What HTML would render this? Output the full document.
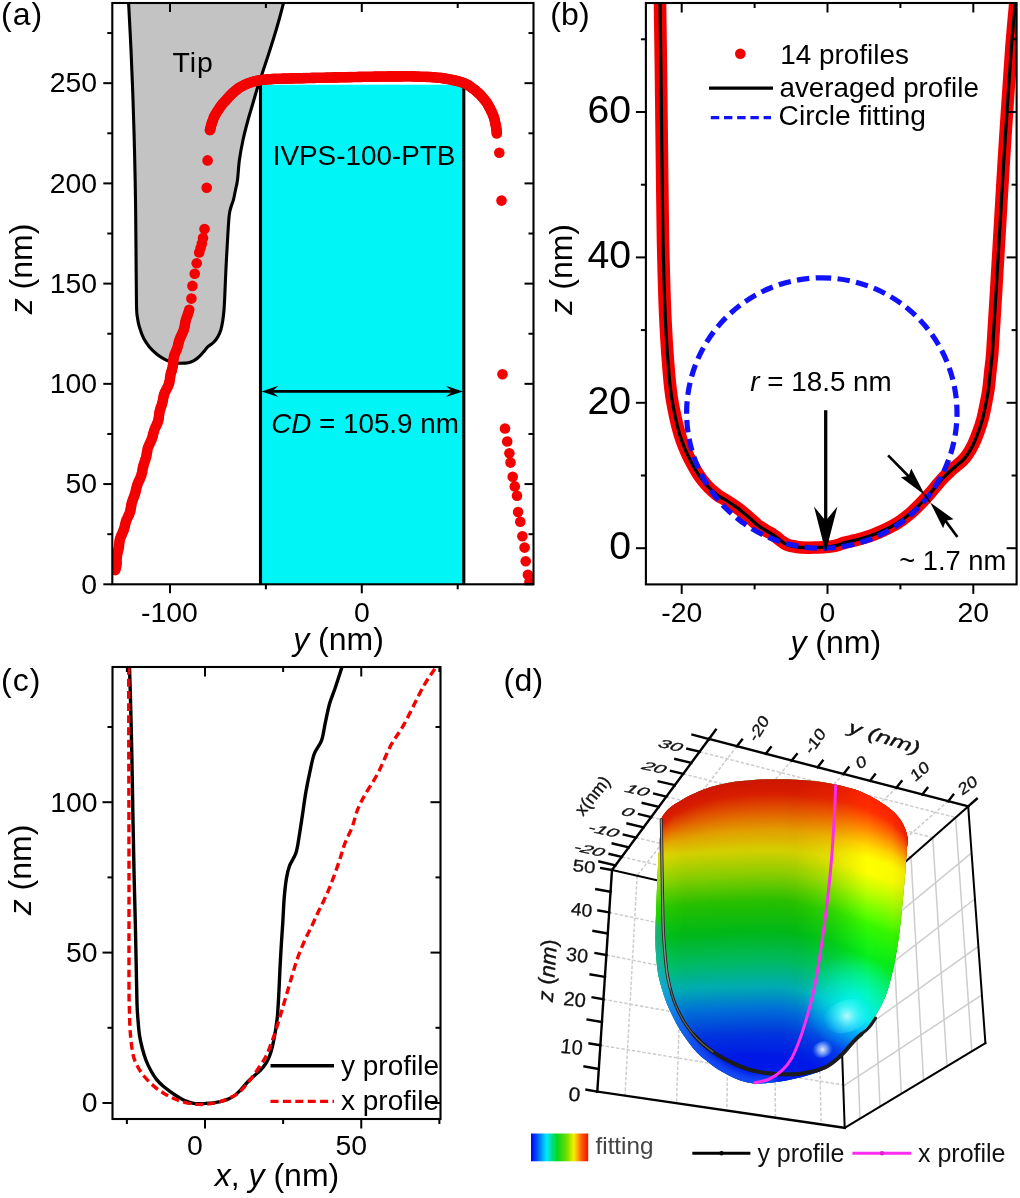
<!DOCTYPE html>
<html lang="en">
<head>
<meta charset="utf-8">
<title>AFM tip characterisation figure</title>
<style>
html,body{margin:0;padding:0;background:#fff;}
body{width:1020px;height:1198px;overflow:hidden;}
svg{display:block;font-family:"Liberation Sans", sans-serif;}
svg text{font-family:"Liberation Sans", sans-serif;}
.it{font-style:italic;}
</style>
</head>
<body>
<svg width="1020" height="1198" viewBox="0 0 1020 1198">
<rect x="0" y="0" width="1020" height="1198" fill="#fff"/>
<g id="panel-a">
<path d="M128.60,3.00 C129.00,10.83 130.27,33.83 131.00,50.00 C131.73,66.17 132.42,83.33 133.00,100.00 C133.58,116.67 134.08,133.33 134.50,150.00 C134.92,166.67 135.25,183.33 135.50,200.00 C135.75,216.67 135.83,232.50 136.00,250.00 C136.17,267.50 136.25,293.67 136.50,305.00 C136.75,316.33 137.02,314.33 137.50,318.00 C137.98,321.67 138.40,323.67 139.40,327.00 C140.40,330.33 141.87,334.72 143.50,338.00 C145.13,341.28 147.12,344.12 149.20,346.70 C151.28,349.28 153.70,351.55 156.00,353.50 C158.30,355.45 160.83,357.12 163.00,358.40 C165.17,359.68 167.05,360.48 169.00,361.20 C170.95,361.92 172.70,362.37 174.70,362.70 C176.70,363.03 178.72,363.20 181.00,363.20 C183.28,363.20 186.32,363.10 188.40,362.70 C190.48,362.30 191.87,361.67 193.50,360.80 C195.13,359.93 196.62,358.88 198.20,357.50 C199.78,356.12 201.37,354.30 203.00,352.50 C204.63,350.70 206.25,348.37 208.00,346.70 C209.75,345.03 211.87,344.13 213.50,342.50 C215.13,340.87 216.58,338.98 217.80,336.90 C219.02,334.82 219.98,332.65 220.80,330.00 C221.62,327.35 222.17,324.33 222.70,321.00 C223.23,317.67 223.67,313.90 224.00,310.00 C224.33,306.10 224.37,304.60 224.70,297.60 C225.03,290.60 225.52,277.80 226.00,268.00 C226.48,258.20 227.07,247.58 227.60,238.80 C228.13,230.02 228.63,220.60 229.20,215.30 C229.77,210.00 230.28,209.62 231.00,207.00 C231.72,204.38 232.75,202.43 233.50,199.60 C234.25,196.77 234.83,193.27 235.50,190.00 C236.17,186.73 236.85,185.00 237.50,180.00 C238.15,175.00 238.48,166.67 239.40,160.00 C240.32,153.33 241.57,146.67 243.00,140.00 C244.43,133.33 246.33,126.17 248.00,120.00 C249.67,113.83 251.33,108.67 253.00,103.00 C254.67,97.33 255.83,92.83 258.00,86.00 C260.17,79.17 263.38,70.00 266.00,62.00 C268.62,54.00 271.53,45.00 273.70,38.00 C275.87,31.00 277.37,25.83 279.00,20.00 C280.63,14.17 282.75,5.83 283.50,3.00Z" fill="#c3c3c3" stroke="none"/>
<path d="M128.60,3.00 C129.00,10.83 130.27,33.83 131.00,50.00 C131.73,66.17 132.42,83.33 133.00,100.00 C133.58,116.67 134.08,133.33 134.50,150.00 C134.92,166.67 135.25,183.33 135.50,200.00 C135.75,216.67 135.83,232.50 136.00,250.00 C136.17,267.50 136.25,293.67 136.50,305.00 C136.75,316.33 137.02,314.33 137.50,318.00 C137.98,321.67 138.40,323.67 139.40,327.00 C140.40,330.33 141.87,334.72 143.50,338.00 C145.13,341.28 147.12,344.12 149.20,346.70 C151.28,349.28 153.70,351.55 156.00,353.50 C158.30,355.45 160.83,357.12 163.00,358.40 C165.17,359.68 167.05,360.48 169.00,361.20 C170.95,361.92 172.70,362.37 174.70,362.70 C176.70,363.03 178.72,363.20 181.00,363.20 C183.28,363.20 186.32,363.10 188.40,362.70 C190.48,362.30 191.87,361.67 193.50,360.80 C195.13,359.93 196.62,358.88 198.20,357.50 C199.78,356.12 201.37,354.30 203.00,352.50 C204.63,350.70 206.25,348.37 208.00,346.70 C209.75,345.03 211.87,344.13 213.50,342.50 C215.13,340.87 216.58,338.98 217.80,336.90 C219.02,334.82 219.98,332.65 220.80,330.00 C221.62,327.35 222.17,324.33 222.70,321.00 C223.23,317.67 223.67,313.90 224.00,310.00 C224.33,306.10 224.37,304.60 224.70,297.60 C225.03,290.60 225.52,277.80 226.00,268.00 C226.48,258.20 227.07,247.58 227.60,238.80 C228.13,230.02 228.63,220.60 229.20,215.30 C229.77,210.00 230.28,209.62 231.00,207.00 C231.72,204.38 232.75,202.43 233.50,199.60 C234.25,196.77 234.83,193.27 235.50,190.00 C236.17,186.73 236.85,185.00 237.50,180.00 C238.15,175.00 238.48,166.67 239.40,160.00 C240.32,153.33 241.57,146.67 243.00,140.00 C244.43,133.33 246.33,126.17 248.00,120.00 C249.67,113.83 251.33,108.67 253.00,103.00 C254.67,97.33 255.83,92.83 258.00,86.00 C260.17,79.17 263.38,70.00 266.00,62.00 C268.62,54.00 271.53,45.00 273.70,38.00 C275.87,31.00 277.37,25.83 279.00,20.00 C280.63,14.17 282.75,5.83 283.50,3.00" fill="none" stroke="#000" stroke-width="3.1" stroke-linejoin="round"/>
<rect x="260.5" y="84.7" width="203.3" height="499.6" fill="#00f6f6"/>
<line x1="260.50" y1="84.70" x2="260.50" y2="584.30" stroke="#000" stroke-width="3.1" />
<line x1="463.80" y1="84.70" x2="463.80" y2="584.30" stroke="#000" stroke-width="3.1" />
<clipPath id="clipA"><rect x="112.3" y="3.0" width="421.2" height="581.3"/></clipPath>
<g fill="#f40000" clip-path="url(#clipA)">
<circle cx="115.3" cy="570.1" r="5.3"/>
<circle cx="116.0" cy="567.5" r="5.3"/>
<circle cx="116.5" cy="564.9" r="5.3"/>
<circle cx="116.6" cy="562.4" r="5.3"/>
<circle cx="116.6" cy="559.8" r="5.3"/>
<circle cx="116.8" cy="557.2" r="5.3"/>
<circle cx="117.2" cy="554.6" r="5.3"/>
<circle cx="117.7" cy="552.0" r="5.3"/>
<circle cx="118.4" cy="549.5" r="5.3"/>
<circle cx="118.9" cy="547.0" r="5.3"/>
<circle cx="119.2" cy="544.5" r="5.3"/>
<circle cx="119.4" cy="542.0" r="5.3"/>
<circle cx="119.9" cy="539.5" r="5.3"/>
<circle cx="120.7" cy="536.9" r="5.3"/>
<circle cx="121.8" cy="534.4" r="5.3"/>
<circle cx="122.9" cy="531.9" r="5.3"/>
<circle cx="123.9" cy="529.4" r="5.3"/>
<circle cx="124.6" cy="526.9" r="5.3"/>
<circle cx="125.2" cy="524.4" r="5.3"/>
<circle cx="125.8" cy="521.9" r="5.3"/>
<circle cx="126.7" cy="519.4" r="5.3"/>
<circle cx="127.9" cy="516.9" r="5.3"/>
<circle cx="129.1" cy="514.5" r="5.3"/>
<circle cx="130.0" cy="512.0" r="5.3"/>
<circle cx="130.6" cy="509.6" r="5.3"/>
<circle cx="131.0" cy="507.1" r="5.3"/>
<circle cx="131.4" cy="504.6" r="5.3"/>
<circle cx="132.0" cy="502.2" r="5.3"/>
<circle cx="132.8" cy="499.7" r="5.3"/>
<circle cx="133.8" cy="497.2" r="5.3"/>
<circle cx="134.7" cy="494.7" r="5.3"/>
<circle cx="135.5" cy="492.2" r="5.3"/>
<circle cx="136.0" cy="489.7" r="5.3"/>
<circle cx="136.6" cy="487.2" r="5.3"/>
<circle cx="137.3" cy="484.7" r="5.3"/>
<circle cx="138.3" cy="482.2" r="5.3"/>
<circle cx="139.5" cy="479.7" r="5.3"/>
<circle cx="140.6" cy="477.2" r="5.3"/>
<circle cx="141.5" cy="474.7" r="5.3"/>
<circle cx="142.1" cy="472.2" r="5.3"/>
<circle cx="142.5" cy="469.7" r="5.3"/>
<circle cx="143.0" cy="467.2" r="5.3"/>
<circle cx="143.6" cy="464.7" r="5.3"/>
<circle cx="144.5" cy="462.2" r="5.3"/>
<circle cx="145.3" cy="459.7" r="5.3"/>
<circle cx="146.1" cy="457.2" r="5.3"/>
<circle cx="146.6" cy="454.7" r="5.3"/>
<circle cx="147.0" cy="452.2" r="5.3"/>
<circle cx="147.4" cy="449.8" r="5.3"/>
<circle cx="148.1" cy="447.3" r="5.3"/>
<circle cx="149.2" cy="444.8" r="5.3"/>
<circle cx="150.4" cy="442.3" r="5.3"/>
<circle cx="151.5" cy="439.8" r="5.3"/>
<circle cx="152.4" cy="437.3" r="5.3"/>
<circle cx="153.0" cy="434.8" r="5.3"/>
<circle cx="153.7" cy="432.3" r="5.3"/>
<circle cx="154.4" cy="429.8" r="5.3"/>
<circle cx="155.4" cy="427.3" r="5.3"/>
<circle cx="156.6" cy="424.9" r="5.3"/>
<circle cx="157.6" cy="422.4" r="5.3"/>
<circle cx="158.4" cy="419.9" r="5.3"/>
<circle cx="158.8" cy="417.4" r="5.3"/>
<circle cx="159.1" cy="414.9" r="5.3"/>
<circle cx="159.4" cy="412.4" r="5.3"/>
<circle cx="160.0" cy="409.9" r="5.3"/>
<circle cx="160.8" cy="407.4" r="5.3"/>
<circle cx="161.7" cy="404.9" r="5.3"/>
<circle cx="162.4" cy="402.4" r="5.3"/>
<circle cx="163.0" cy="399.8" r="5.3"/>
<circle cx="163.4" cy="397.3" r="5.3"/>
<circle cx="164.0" cy="394.8" r="5.3"/>
<circle cx="164.9" cy="392.3" r="5.3"/>
<circle cx="166.1" cy="389.9" r="5.3"/>
<circle cx="167.4" cy="387.4" r="5.3"/>
<circle cx="168.5" cy="384.9" r="5.3"/>
<circle cx="169.3" cy="382.4" r="5.3"/>
<circle cx="169.8" cy="379.9" r="5.3"/>
<circle cx="170.1" cy="377.3" r="5.3"/>
<circle cx="170.5" cy="374.8" r="5.3"/>
<circle cx="171.2" cy="372.3" r="5.3"/>
<circle cx="172.0" cy="369.7" r="5.3"/>
<circle cx="172.6" cy="367.2" r="5.3"/>
<circle cx="173.0" cy="364.7" r="5.3"/>
<circle cx="173.2" cy="362.1" r="5.3"/>
<circle cx="173.4" cy="359.6" r="5.3"/>
<circle cx="173.9" cy="357.1" r="5.3"/>
<circle cx="174.6" cy="354.6" r="5.3"/>
<circle cx="175.7" cy="352.0" r="5.3"/>
<circle cx="176.8" cy="349.5" r="5.3"/>
<circle cx="177.6" cy="347.0" r="5.3"/>
<circle cx="178.2" cy="344.5" r="5.3"/>
<circle cx="178.8" cy="342.0" r="5.3"/>
<circle cx="179.6" cy="339.5" r="5.3"/>
<circle cx="180.6" cy="337.0" r="5.3"/>
<circle cx="181.8" cy="334.6" r="5.3"/>
<circle cx="182.9" cy="332.1" r="5.3"/>
<circle cx="183.9" cy="329.6" r="5.3"/>
<circle cx="184.5" cy="327.2" r="5.3"/>
<circle cx="184.9" cy="324.7" r="5.3"/>
<circle cx="185.3" cy="322.2" r="5.3"/>
<circle cx="185.9" cy="319.8" r="5.3"/>
<circle cx="186.8" cy="317.3" r="5.3"/>
<circle cx="187.7" cy="314.8" r="5.3"/>
<circle cx="188.5" cy="312.3" r="5.3"/>
<circle cx="189.2" cy="309.8" r="5.3"/>
<circle cx="191.4" cy="298.6" r="5.3"/>
<circle cx="192.4" cy="285.9" r="5.3"/>
<circle cx="194.7" cy="273.7" r="5.3"/>
<circle cx="196.7" cy="263.3" r="5.3"/>
<circle cx="199.2" cy="252.5" r="5.3"/>
<circle cx="200.6" cy="248.0" r="5.3"/>
<circle cx="201.8" cy="243.7" r="5.3"/>
<circle cx="203.0" cy="238.0" r="5.3"/>
<circle cx="204.5" cy="229.0" r="5.3"/>
<circle cx="206.7" cy="187.8" r="5.3"/>
<circle cx="207.6" cy="160.4" r="5.3"/>
<circle cx="210.0" cy="130.0" r="5.3"/>
<circle cx="210.0" cy="130.0" r="5.3"/>
<circle cx="210.4" cy="128.4" r="5.3"/>
<circle cx="210.8" cy="126.9" r="5.3"/>
<circle cx="211.2" cy="125.3" r="5.3"/>
<circle cx="211.6" cy="123.8" r="5.3"/>
<circle cx="212.1" cy="122.3" r="5.3"/>
<circle cx="212.7" cy="120.8" r="5.3"/>
<circle cx="213.2" cy="119.3" r="5.3"/>
<circle cx="213.7" cy="117.8" r="5.3"/>
<circle cx="214.4" cy="116.3" r="5.3"/>
<circle cx="215.2" cy="114.9" r="5.3"/>
<circle cx="216.0" cy="113.5" r="5.3"/>
<circle cx="216.8" cy="112.2" r="5.3"/>
<circle cx="217.7" cy="110.8" r="5.3"/>
<circle cx="218.6" cy="109.5" r="5.3"/>
<circle cx="219.5" cy="108.1" r="5.3"/>
<circle cx="220.4" cy="106.8" r="5.3"/>
<circle cx="221.3" cy="105.5" r="5.3"/>
<circle cx="222.2" cy="104.2" r="5.3"/>
<circle cx="223.3" cy="103.0" r="5.3"/>
<circle cx="224.4" cy="101.9" r="5.3"/>
<circle cx="225.5" cy="100.7" r="5.3"/>
<circle cx="226.6" cy="99.5" r="5.3"/>
<circle cx="227.6" cy="98.3" r="5.3"/>
<circle cx="228.7" cy="97.1" r="5.3"/>
<circle cx="229.8" cy="95.9" r="5.3"/>
<circle cx="230.9" cy="94.7" r="5.3"/>
<circle cx="231.9" cy="93.6" r="5.3"/>
<circle cx="233.2" cy="92.5" r="5.3"/>
<circle cx="234.4" cy="91.5" r="5.3"/>
<circle cx="235.6" cy="90.5" r="5.3"/>
<circle cx="236.9" cy="89.4" r="5.3"/>
<circle cx="238.1" cy="88.4" r="5.3"/>
<circle cx="239.5" cy="87.6" r="5.3"/>
<circle cx="240.9" cy="86.8" r="5.3"/>
<circle cx="242.3" cy="86.1" r="5.3"/>
<circle cx="243.7" cy="85.3" r="5.3"/>
<circle cx="245.1" cy="84.5" r="5.3"/>
<circle cx="246.6" cy="83.9" r="5.3"/>
<circle cx="248.1" cy="83.3" r="5.3"/>
<circle cx="249.6" cy="82.8" r="5.3"/>
<circle cx="251.1" cy="82.2" r="5.3"/>
<circle cx="252.6" cy="81.7" r="5.3"/>
<circle cx="254.1" cy="81.3" r="5.3"/>
<circle cx="255.7" cy="81.0" r="5.3"/>
<circle cx="257.3" cy="80.7" r="5.3"/>
<circle cx="258.8" cy="80.4" r="5.3"/>
<circle cx="260.4" cy="80.1" r="5.3"/>
<circle cx="262.0" cy="79.8" r="5.3"/>
<circle cx="263.6" cy="79.7" r="5.3"/>
<circle cx="265.2" cy="79.6" r="5.3"/>
<circle cx="266.8" cy="79.4" r="5.3"/>
<circle cx="268.4" cy="79.3" r="5.3"/>
<circle cx="270.0" cy="79.2" r="5.3"/>
<circle cx="271.6" cy="79.1" r="5.3"/>
<circle cx="273.2" cy="78.9" r="5.3"/>
<circle cx="274.8" cy="78.8" r="5.3"/>
<circle cx="276.4" cy="78.8" r="5.3"/>
<circle cx="278.0" cy="78.7" r="5.3"/>
<circle cx="279.6" cy="78.7" r="5.3"/>
<circle cx="281.2" cy="78.7" r="5.3"/>
<circle cx="282.8" cy="78.6" r="5.3"/>
<circle cx="284.4" cy="78.6" r="5.3"/>
<circle cx="286.0" cy="78.5" r="5.3"/>
<circle cx="287.6" cy="78.5" r="5.3"/>
<circle cx="289.2" cy="78.5" r="5.3"/>
<circle cx="290.8" cy="78.4" r="5.3"/>
<circle cx="292.4" cy="78.4" r="5.3"/>
<circle cx="294.0" cy="78.3" r="5.3"/>
<circle cx="295.6" cy="78.3" r="5.3"/>
<circle cx="297.2" cy="78.3" r="5.3"/>
<circle cx="298.8" cy="78.2" r="5.3"/>
<circle cx="300.4" cy="78.2" r="5.3"/>
<circle cx="302.0" cy="78.2" r="5.3"/>
<circle cx="303.6" cy="78.1" r="5.3"/>
<circle cx="305.2" cy="78.1" r="5.3"/>
<circle cx="306.8" cy="78.0" r="5.3"/>
<circle cx="308.4" cy="78.0" r="5.3"/>
<circle cx="310.0" cy="78.0" r="5.3"/>
<circle cx="311.6" cy="77.9" r="5.3"/>
<circle cx="313.2" cy="77.9" r="5.3"/>
<circle cx="314.8" cy="77.9" r="5.3"/>
<circle cx="316.4" cy="77.8" r="5.3"/>
<circle cx="318.0" cy="77.8" r="5.3"/>
<circle cx="319.6" cy="77.8" r="5.3"/>
<circle cx="321.2" cy="77.7" r="5.3"/>
<circle cx="322.8" cy="77.7" r="5.3"/>
<circle cx="324.4" cy="77.7" r="5.3"/>
<circle cx="326.0" cy="77.6" r="5.3"/>
<circle cx="327.6" cy="77.6" r="5.3"/>
<circle cx="329.2" cy="77.5" r="5.3"/>
<circle cx="330.8" cy="77.5" r="5.3"/>
<circle cx="332.4" cy="77.5" r="5.3"/>
<circle cx="334.0" cy="77.4" r="5.3"/>
<circle cx="335.6" cy="77.4" r="5.3"/>
<circle cx="337.2" cy="77.4" r="5.3"/>
<circle cx="338.8" cy="77.3" r="5.3"/>
<circle cx="340.4" cy="77.3" r="5.3"/>
<circle cx="342.1" cy="77.3" r="5.3"/>
<circle cx="343.7" cy="77.2" r="5.3"/>
<circle cx="345.3" cy="77.2" r="5.3"/>
<circle cx="346.9" cy="77.2" r="5.3"/>
<circle cx="348.5" cy="77.1" r="5.3"/>
<circle cx="350.1" cy="77.1" r="5.3"/>
<circle cx="351.7" cy="77.1" r="5.3"/>
<circle cx="353.3" cy="77.0" r="5.3"/>
<circle cx="354.9" cy="77.0" r="5.3"/>
<circle cx="356.5" cy="77.0" r="5.3"/>
<circle cx="358.1" cy="76.9" r="5.3"/>
<circle cx="359.7" cy="76.9" r="5.3"/>
<circle cx="361.3" cy="76.9" r="5.3"/>
<circle cx="362.9" cy="76.8" r="5.3"/>
<circle cx="364.5" cy="76.8" r="5.3"/>
<circle cx="366.1" cy="76.8" r="5.3"/>
<circle cx="367.7" cy="76.7" r="5.3"/>
<circle cx="369.3" cy="76.7" r="5.3"/>
<circle cx="370.9" cy="76.7" r="5.3"/>
<circle cx="372.5" cy="76.7" r="5.3"/>
<circle cx="374.1" cy="76.6" r="5.3"/>
<circle cx="375.7" cy="76.6" r="5.3"/>
<circle cx="377.3" cy="76.6" r="5.3"/>
<circle cx="378.9" cy="76.5" r="5.3"/>
<circle cx="380.5" cy="76.5" r="5.3"/>
<circle cx="382.1" cy="76.5" r="5.3"/>
<circle cx="383.7" cy="76.5" r="5.3"/>
<circle cx="385.3" cy="76.5" r="5.3"/>
<circle cx="386.9" cy="76.5" r="5.3"/>
<circle cx="388.5" cy="76.4" r="5.3"/>
<circle cx="390.1" cy="76.4" r="5.3"/>
<circle cx="391.7" cy="76.4" r="5.3"/>
<circle cx="393.3" cy="76.4" r="5.3"/>
<circle cx="394.9" cy="76.4" r="5.3"/>
<circle cx="396.5" cy="76.4" r="5.3"/>
<circle cx="398.1" cy="76.4" r="5.3"/>
<circle cx="399.7" cy="76.4" r="5.3"/>
<circle cx="401.3" cy="76.4" r="5.3"/>
<circle cx="402.9" cy="76.3" r="5.3"/>
<circle cx="404.5" cy="76.3" r="5.3"/>
<circle cx="406.1" cy="76.3" r="5.3"/>
<circle cx="407.7" cy="76.3" r="5.3"/>
<circle cx="409.3" cy="76.3" r="5.3"/>
<circle cx="410.9" cy="76.3" r="5.3"/>
<circle cx="412.5" cy="76.4" r="5.3"/>
<circle cx="414.1" cy="76.4" r="5.3"/>
<circle cx="415.7" cy="76.5" r="5.3"/>
<circle cx="417.3" cy="76.6" r="5.3"/>
<circle cx="418.9" cy="76.6" r="5.3"/>
<circle cx="420.5" cy="76.7" r="5.3"/>
<circle cx="422.1" cy="76.7" r="5.3"/>
<circle cx="423.7" cy="76.8" r="5.3"/>
<circle cx="425.3" cy="76.8" r="5.3"/>
<circle cx="426.9" cy="76.9" r="5.3"/>
<circle cx="428.6" cy="76.9" r="5.3"/>
<circle cx="430.2" cy="77.0" r="5.3"/>
<circle cx="431.7" cy="77.1" r="5.3"/>
<circle cx="433.3" cy="77.3" r="5.3"/>
<circle cx="434.9" cy="77.4" r="5.3"/>
<circle cx="436.5" cy="77.5" r="5.3"/>
<circle cx="438.1" cy="77.7" r="5.3"/>
<circle cx="439.7" cy="77.8" r="5.3"/>
<circle cx="441.3" cy="77.9" r="5.3"/>
<circle cx="442.9" cy="78.2" r="5.3"/>
<circle cx="444.5" cy="78.4" r="5.3"/>
<circle cx="446.1" cy="78.7" r="5.3"/>
<circle cx="447.6" cy="79.0" r="5.3"/>
<circle cx="449.2" cy="79.3" r="5.3"/>
<circle cx="450.8" cy="79.6" r="5.3"/>
<circle cx="452.4" cy="79.9" r="5.3"/>
<circle cx="453.9" cy="80.2" r="5.3"/>
<circle cx="455.5" cy="80.6" r="5.3"/>
<circle cx="457.1" cy="80.9" r="5.3"/>
<circle cx="458.6" cy="81.3" r="5.3"/>
<circle cx="460.2" cy="81.7" r="5.3"/>
<circle cx="461.7" cy="82.2" r="5.3"/>
<circle cx="463.2" cy="82.8" r="5.3"/>
<circle cx="464.7" cy="83.4" r="5.3"/>
<circle cx="466.2" cy="84.0" r="5.3"/>
<circle cx="467.6" cy="84.7" r="5.3"/>
<circle cx="468.9" cy="85.6" r="5.3"/>
<circle cx="470.2" cy="86.5" r="5.3"/>
<circle cx="471.5" cy="87.4" r="5.3"/>
<circle cx="472.8" cy="88.4" r="5.3"/>
<circle cx="474.1" cy="89.3" r="5.3"/>
<circle cx="475.4" cy="90.3" r="5.3"/>
<circle cx="476.6" cy="91.4" r="5.3"/>
<circle cx="477.8" cy="92.5" r="5.3"/>
<circle cx="479.0" cy="93.5" r="5.3"/>
<circle cx="480.1" cy="94.6" r="5.3"/>
<circle cx="481.2" cy="95.8" r="5.3"/>
<circle cx="482.2" cy="97.0" r="5.3"/>
<circle cx="483.3" cy="98.2" r="5.3"/>
<circle cx="484.3" cy="99.5" r="5.3"/>
<circle cx="485.3" cy="100.7" r="5.3"/>
<circle cx="486.3" cy="102.0" r="5.3"/>
<circle cx="487.2" cy="103.3" r="5.3"/>
<circle cx="488.0" cy="104.7" r="5.3"/>
<circle cx="488.7" cy="106.1" r="5.3"/>
<circle cx="489.5" cy="107.5" r="5.3"/>
<circle cx="490.3" cy="108.9" r="5.3"/>
<circle cx="491.0" cy="110.4" r="5.3"/>
<circle cx="491.7" cy="111.8" r="5.3"/>
<circle cx="492.4" cy="113.3" r="5.3"/>
<circle cx="492.9" cy="114.7" r="5.3"/>
<circle cx="493.5" cy="116.3" r="5.3"/>
<circle cx="494.0" cy="117.8" r="5.3"/>
<circle cx="494.5" cy="119.3" r="5.3"/>
<circle cx="494.8" cy="120.9" r="5.3"/>
<circle cx="495.2" cy="122.4" r="5.3"/>
<circle cx="495.5" cy="124.0" r="5.3"/>
<circle cx="495.8" cy="125.6" r="5.3"/>
<circle cx="496.1" cy="127.1" r="5.3"/>
<circle cx="496.4" cy="128.7" r="5.3"/>
<circle cx="496.6" cy="130.3" r="5.3"/>
<circle cx="496.7" cy="131.9" r="5.3"/>
<circle cx="496.8" cy="133.5" r="5.3"/>
<circle cx="499.3" cy="152.7" r="5.3"/>
<circle cx="501.5" cy="200.6" r="5.3"/>
<circle cx="502.5" cy="374.3" r="5.3"/>
<circle cx="505.0" cy="428.5" r="5.3"/>
<circle cx="507.2" cy="441.5" r="5.3"/>
<circle cx="509.4" cy="453.2" r="5.3"/>
<circle cx="510.5" cy="462.6" r="5.3"/>
<circle cx="512.7" cy="476.7" r="5.3"/>
<circle cx="514.8" cy="486.4" r="5.3"/>
<circle cx="517.0" cy="495.7" r="5.3"/>
<circle cx="518.1" cy="512.0" r="5.3"/>
<circle cx="520.3" cy="521.8" r="5.3"/>
<circle cx="522.4" cy="536.3" r="5.3"/>
<circle cx="524.6" cy="547.6" r="5.3"/>
<circle cx="525.7" cy="561.3" r="5.3"/>
<circle cx="527.9" cy="574.7" r="5.3"/>
<circle cx="529.4" cy="581.9" r="5.3"/>
</g>
<rect x="112.3" y="3.0" width="421.2" height="581.3" fill="none" stroke="#000" stroke-width="2.1"/>
<line x1="103.30" y1="584.30" x2="112.30" y2="584.30" stroke="#000" stroke-width="2" />
<line x1="524.50" y1="584.30" x2="533.50" y2="584.30" stroke="#000" stroke-width="2" />
<text x="97.00" y="593.60" font-size="28.4" text-anchor="end" fill="#000" >0</text>
<line x1="107.30" y1="534.19" x2="112.30" y2="534.19" stroke="#000" stroke-width="2" />
<line x1="528.50" y1="534.19" x2="533.50" y2="534.19" stroke="#000" stroke-width="2" />
<line x1="103.30" y1="484.07" x2="112.30" y2="484.07" stroke="#000" stroke-width="2" />
<line x1="524.50" y1="484.07" x2="533.50" y2="484.07" stroke="#000" stroke-width="2" />
<text x="97.00" y="493.37" font-size="28.4" text-anchor="end" fill="#000" >50</text>
<line x1="107.30" y1="433.96" x2="112.30" y2="433.96" stroke="#000" stroke-width="2" />
<line x1="528.50" y1="433.96" x2="533.50" y2="433.96" stroke="#000" stroke-width="2" />
<line x1="103.30" y1="383.85" x2="112.30" y2="383.85" stroke="#000" stroke-width="2" />
<line x1="524.50" y1="383.85" x2="533.50" y2="383.85" stroke="#000" stroke-width="2" />
<text x="97.00" y="393.15" font-size="28.4" text-anchor="end" fill="#000" >100</text>
<line x1="107.30" y1="333.74" x2="112.30" y2="333.74" stroke="#000" stroke-width="2" />
<line x1="528.50" y1="333.74" x2="533.50" y2="333.74" stroke="#000" stroke-width="2" />
<line x1="103.30" y1="283.62" x2="112.30" y2="283.62" stroke="#000" stroke-width="2" />
<line x1="524.50" y1="283.62" x2="533.50" y2="283.62" stroke="#000" stroke-width="2" />
<text x="97.00" y="292.92" font-size="28.4" text-anchor="end" fill="#000" >150</text>
<line x1="107.30" y1="233.51" x2="112.30" y2="233.51" stroke="#000" stroke-width="2" />
<line x1="528.50" y1="233.51" x2="533.50" y2="233.51" stroke="#000" stroke-width="2" />
<line x1="103.30" y1="183.40" x2="112.30" y2="183.40" stroke="#000" stroke-width="2" />
<line x1="524.50" y1="183.40" x2="533.50" y2="183.40" stroke="#000" stroke-width="2" />
<text x="97.00" y="192.70" font-size="28.4" text-anchor="end" fill="#000" >200</text>
<line x1="107.30" y1="133.29" x2="112.30" y2="133.29" stroke="#000" stroke-width="2" />
<line x1="528.50" y1="133.29" x2="533.50" y2="133.29" stroke="#000" stroke-width="2" />
<line x1="103.30" y1="83.17" x2="112.30" y2="83.17" stroke="#000" stroke-width="2" />
<line x1="524.50" y1="83.17" x2="533.50" y2="83.17" stroke="#000" stroke-width="2" />
<text x="97.00" y="92.47" font-size="28.4" text-anchor="end" fill="#000" >250</text>
<line x1="107.30" y1="33.06" x2="112.30" y2="33.06" stroke="#000" stroke-width="2" />
<line x1="528.50" y1="33.06" x2="533.50" y2="33.06" stroke="#000" stroke-width="2" />
<line x1="170.00" y1="584.30" x2="170.00" y2="593.30" stroke="#000" stroke-width="2" />
<line x1="170.00" y1="3.00" x2="170.00" y2="12.00" stroke="#000" stroke-width="2" />
<text x="169.50" y="622.00" font-size="28.4" text-anchor="middle" fill="#000" >-100</text>
<line x1="265.90" y1="584.30" x2="265.90" y2="589.30" stroke="#000" stroke-width="2" />
<line x1="265.90" y1="3.00" x2="265.90" y2="8.00" stroke="#000" stroke-width="2" />
<line x1="361.80" y1="584.30" x2="361.80" y2="593.30" stroke="#000" stroke-width="2" />
<line x1="361.80" y1="3.00" x2="361.80" y2="12.00" stroke="#000" stroke-width="2" />
<text x="361.80" y="622.00" font-size="28.4" text-anchor="middle" fill="#000" >0</text>
<line x1="457.70" y1="584.30" x2="457.70" y2="589.30" stroke="#000" stroke-width="2" />
<line x1="457.70" y1="3.00" x2="457.70" y2="8.00" stroke="#000" stroke-width="2" />
<text x="172.60" y="72.00" font-size="28.4" text-anchor="start" fill="#000" letter-spacing="0.9">Tip</text>
<text x="364.00" y="165.30" font-size="27.85" text-anchor="middle" fill="#000" >IVPS-100-PTB</text>
<text x="365.00" y="432.50" font-size="27.8" text-anchor="middle" fill="#000" ><tspan class="it">CD</tspan> = 105.9 nm</text>
<line x1="268.00" y1="391.40" x2="456.00" y2="391.40" stroke="#000" stroke-width="2.6" />
<polygon points="261.50,391.40 278.50,397.00 272.04,391.40 278.50,385.80" fill="#000"/>
<polygon points="462.80,391.40 445.80,385.80 452.26,391.40 445.80,397.00" fill="#000"/>
<text x="1.00" y="25.00" font-size="32" text-anchor="start" fill="#000" letter-spacing="1">(a)</text>
<text transform="translate(32.3,269.0) rotate(-90)" font-size="32" text-anchor="middle"><tspan class="it">z</tspan> (nm)</text>
<text x="338.50" y="650.00" font-size="32" text-anchor="middle" fill="#000" ><tspan class="it">y</tspan> (nm)</text>
</g>
<g id="panel-b">
<clipPath id="clipB"><rect x="645.9" y="3.0" width="370.7" height="581.4"/></clipPath>
<g clip-path="url(#clipB)">
<path d="M660.00,3.00 C660.13,12.50 660.55,40.50 660.80,60.00 C661.05,79.50 661.27,100.00 661.50,120.00 C661.73,140.00 661.95,160.00 662.20,180.00 C662.45,200.00 662.70,223.33 663.00,240.00 C663.30,256.67 663.63,267.58 664.00,280.00 C664.37,292.42 664.65,302.50 665.20,314.50 C665.75,326.50 666.42,339.58 667.30,352.00 C668.18,364.42 669.47,379.67 670.50,389.00 C671.53,398.33 672.33,401.78 673.50,408.00 C674.67,414.22 676.17,420.97 677.50,426.30 C678.83,431.63 680.00,435.65 681.50,440.00 C683.00,444.35 684.75,448.48 686.50,452.40 C688.25,456.32 690.00,459.78 692.00,463.50 C694.00,467.22 696.17,471.20 698.50,474.70 C700.83,478.20 703.75,481.87 706.00,484.50 C708.25,487.13 709.93,488.63 712.00,490.50 C714.07,492.37 715.73,493.87 718.40,495.70 C721.07,497.53 724.73,499.38 728.00,501.50 C731.27,503.62 734.67,505.90 738.00,508.40 C741.33,510.90 744.73,513.72 748.00,516.50 C751.27,519.28 754.68,522.80 757.60,525.10 C760.52,527.40 762.88,528.67 765.50,530.30 C768.12,531.93 770.88,533.28 773.30,534.90 C775.72,536.52 777.72,538.37 780.00,540.00 C782.28,541.63 784.18,543.55 787.00,544.70 C789.82,545.85 793.45,546.40 796.90,546.90 C800.35,547.40 804.35,547.60 807.70,547.70 C811.05,547.80 813.90,547.62 817.00,547.50 C820.10,547.38 823.13,547.32 826.30,547.00 C829.47,546.68 832.88,546.33 836.00,545.60 C839.12,544.87 841.92,543.47 845.00,542.60 C848.08,541.73 851.42,541.17 854.50,540.40 C857.58,539.63 860.42,538.93 863.50,538.00 C866.58,537.07 869.88,535.97 873.00,534.80 C876.12,533.63 879.07,532.42 882.20,531.00 C885.33,529.58 888.70,528.00 891.80,526.30 C894.90,524.60 897.68,522.97 900.80,520.80 C903.92,518.63 907.40,515.97 910.50,513.30 C913.60,510.63 916.35,507.88 919.40,504.80 C922.45,501.72 925.87,498.10 928.80,494.80 C931.73,491.50 934.53,487.88 937.00,485.00 C939.47,482.12 941.57,479.67 943.60,477.50 C945.63,475.33 947.22,473.83 949.20,472.00 C951.18,470.17 953.37,468.33 955.50,466.50 C957.63,464.67 960.00,463.00 962.00,461.00 C964.00,459.00 965.67,457.17 967.50,454.50 C969.33,451.83 971.25,448.58 973.00,445.00 C974.75,441.42 976.40,437.37 978.00,433.00 C979.60,428.63 981.30,423.63 982.60,418.80 C983.90,413.97 984.82,408.97 985.80,404.00 C986.78,399.03 987.72,394.67 988.50,389.00 C989.28,383.33 989.85,376.20 990.50,370.00 C991.15,363.80 991.55,363.47 992.40,351.80 C993.25,340.13 994.08,325.30 995.60,300.00 C997.12,274.70 1000.02,225.00 1001.50,200.00 C1002.98,175.00 1003.45,166.67 1004.50,150.00 C1005.55,133.33 1006.88,113.67 1007.80,100.00 C1008.72,86.33 1009.30,78.00 1010.00,68.00 C1010.70,58.00 1011.12,50.83 1012.00,40.00 C1012.88,29.17 1014.75,9.17 1015.30,3.00" fill="none" stroke="#f40000" stroke-width="12.6" stroke-linejoin="round" stroke-linecap="butt"/>
<path d="M660.00,3.00 C660.13,12.50 660.55,40.50 660.80,60.00 C661.05,79.50 661.27,100.00 661.50,120.00 C661.73,140.00 661.95,160.00 662.20,180.00 C662.45,200.00 662.70,223.33 663.00,240.00 C663.30,256.67 663.63,267.58 664.00,280.00 C664.37,292.42 664.65,302.50 665.20,314.50 C665.75,326.50 666.42,339.58 667.30,352.00 C668.18,364.42 669.47,379.67 670.50,389.00 C671.53,398.33 672.33,401.78 673.50,408.00 C674.67,414.22 676.17,420.97 677.50,426.30 C678.83,431.63 680.00,435.65 681.50,440.00 C683.00,444.35 684.75,448.48 686.50,452.40 C688.25,456.32 690.00,459.78 692.00,463.50 C694.00,467.22 696.17,471.20 698.50,474.70 C700.83,478.20 703.75,481.87 706.00,484.50 C708.25,487.13 709.93,488.63 712.00,490.50 C714.07,492.37 715.73,493.87 718.40,495.70 C721.07,497.53 724.73,499.38 728.00,501.50 C731.27,503.62 734.67,505.90 738.00,508.40 C741.33,510.90 744.73,513.72 748.00,516.50 C751.27,519.28 754.68,522.80 757.60,525.10 C760.52,527.40 762.88,528.67 765.50,530.30 C768.12,531.93 770.88,533.28 773.30,534.90 C775.72,536.52 777.72,538.37 780.00,540.00 C782.28,541.63 784.18,543.55 787.00,544.70 C789.82,545.85 793.45,546.40 796.90,546.90 C800.35,547.40 804.35,547.60 807.70,547.70 C811.05,547.80 813.90,547.62 817.00,547.50 C820.10,547.38 823.13,547.32 826.30,547.00 C829.47,546.68 832.88,546.33 836.00,545.60 C839.12,544.87 841.92,543.47 845.00,542.60 C848.08,541.73 851.42,541.17 854.50,540.40 C857.58,539.63 860.42,538.93 863.50,538.00 C866.58,537.07 869.88,535.97 873.00,534.80 C876.12,533.63 879.07,532.42 882.20,531.00 C885.33,529.58 888.70,528.00 891.80,526.30 C894.90,524.60 897.68,522.97 900.80,520.80 C903.92,518.63 907.40,515.97 910.50,513.30 C913.60,510.63 916.35,507.88 919.40,504.80 C922.45,501.72 925.87,498.10 928.80,494.80 C931.73,491.50 934.53,487.88 937.00,485.00 C939.47,482.12 941.57,479.67 943.60,477.50 C945.63,475.33 947.22,473.83 949.20,472.00 C951.18,470.17 953.37,468.33 955.50,466.50 C957.63,464.67 960.00,463.00 962.00,461.00 C964.00,459.00 965.67,457.17 967.50,454.50 C969.33,451.83 971.25,448.58 973.00,445.00 C974.75,441.42 976.40,437.37 978.00,433.00 C979.60,428.63 981.30,423.63 982.60,418.80 C983.90,413.97 984.82,408.97 985.80,404.00 C986.78,399.03 987.72,394.67 988.50,389.00 C989.28,383.33 989.85,376.20 990.50,370.00 C991.15,363.80 991.55,363.47 992.40,351.80 C993.25,340.13 994.08,325.30 995.60,300.00 C997.12,274.70 1000.02,225.00 1001.50,200.00 C1002.98,175.00 1003.45,166.67 1004.50,150.00 C1005.55,133.33 1006.88,113.67 1007.80,100.00 C1008.72,86.33 1009.30,78.00 1010.00,68.00 C1010.70,58.00 1011.12,50.83 1012.00,40.00 C1012.88,29.17 1014.75,9.17 1015.30,3.00" fill="none" stroke="#000" stroke-width="3.2" stroke-linejoin="round"/>
<circle cx="821.8" cy="413.0" r="135.2" fill="none" stroke="#1212fa" stroke-width="5.2" stroke-dasharray="12.4 6.4" stroke-dashoffset="3" transform="rotate(-90 821.8 413)"/>
</g>
<rect x="645.9" y="3.0" width="370.7" height="581.4" fill="none" stroke="#000" stroke-width="2.1"/>
<line x1="635.90" y1="548.20" x2="645.90" y2="548.20" stroke="#000" stroke-width="2" />
<line x1="1006.60" y1="548.20" x2="1016.60" y2="548.20" stroke="#000" stroke-width="2" />
<text x="631.00" y="559.00" font-size="39.2" text-anchor="end" fill="#000" >0</text>
<line x1="640.90" y1="475.50" x2="645.90" y2="475.50" stroke="#000" stroke-width="2" />
<line x1="1011.60" y1="475.50" x2="1016.60" y2="475.50" stroke="#000" stroke-width="2" />
<line x1="635.90" y1="402.80" x2="645.90" y2="402.80" stroke="#000" stroke-width="2" />
<line x1="1006.60" y1="402.80" x2="1016.60" y2="402.80" stroke="#000" stroke-width="2" />
<text x="631.00" y="413.60" font-size="39.2" text-anchor="end" fill="#000" >20</text>
<line x1="640.90" y1="330.10" x2="645.90" y2="330.10" stroke="#000" stroke-width="2" />
<line x1="1011.60" y1="330.10" x2="1016.60" y2="330.10" stroke="#000" stroke-width="2" />
<line x1="635.90" y1="257.40" x2="645.90" y2="257.40" stroke="#000" stroke-width="2" />
<line x1="1006.60" y1="257.40" x2="1016.60" y2="257.40" stroke="#000" stroke-width="2" />
<text x="631.00" y="268.20" font-size="39.2" text-anchor="end" fill="#000" >40</text>
<line x1="640.90" y1="184.70" x2="645.90" y2="184.70" stroke="#000" stroke-width="2" />
<line x1="1011.60" y1="184.70" x2="1016.60" y2="184.70" stroke="#000" stroke-width="2" />
<line x1="635.90" y1="112.00" x2="645.90" y2="112.00" stroke="#000" stroke-width="2" />
<line x1="1006.60" y1="112.00" x2="1016.60" y2="112.00" stroke="#000" stroke-width="2" />
<text x="631.00" y="122.80" font-size="39.2" text-anchor="end" fill="#000" >60</text>
<line x1="640.90" y1="39.30" x2="645.90" y2="39.30" stroke="#000" stroke-width="2" />
<line x1="1011.60" y1="39.30" x2="1016.60" y2="39.30" stroke="#000" stroke-width="2" />
<line x1="681.70" y1="584.40" x2="681.70" y2="593.90" stroke="#000" stroke-width="2" />
<line x1="681.70" y1="3.00" x2="681.70" y2="12.50" stroke="#000" stroke-width="2" />
<text x="681.70" y="621.80" font-size="28.4" text-anchor="middle" fill="#000" >-20</text>
<line x1="754.60" y1="584.40" x2="754.60" y2="589.40" stroke="#000" stroke-width="2" />
<line x1="754.60" y1="3.00" x2="754.60" y2="8.00" stroke="#000" stroke-width="2" />
<line x1="827.50" y1="584.40" x2="827.50" y2="593.90" stroke="#000" stroke-width="2" />
<line x1="827.50" y1="3.00" x2="827.50" y2="12.50" stroke="#000" stroke-width="2" />
<text x="827.50" y="621.80" font-size="28.4" text-anchor="middle" fill="#000" >0</text>
<line x1="900.40" y1="584.40" x2="900.40" y2="589.40" stroke="#000" stroke-width="2" />
<line x1="900.40" y1="3.00" x2="900.40" y2="8.00" stroke="#000" stroke-width="2" />
<line x1="973.30" y1="584.40" x2="973.30" y2="593.90" stroke="#000" stroke-width="2" />
<line x1="973.30" y1="3.00" x2="973.30" y2="12.50" stroke="#000" stroke-width="2" />
<text x="973.30" y="621.80" font-size="28.4" text-anchor="middle" fill="#000" >20</text>
<circle cx="740.3" cy="53.8" r="5.3" fill="#f40000"/>
<line x1="709.00" y1="88.20" x2="773.00" y2="88.20" stroke="#000" stroke-width="3.2" />
<line x1="710.8" y1="117.6" x2="771" y2="117.6" stroke="#1212fa" stroke-width="3.2" stroke-dasharray="8.4 4.8"/>
<text x="780.20" y="63.50" font-size="27.9" text-anchor="start" fill="#000" >14 profiles</text>
<text x="779.50" y="97.00" font-size="27.8" text-anchor="start" fill="#000" >averaged profile</text>
<text x="778.60" y="125.00" font-size="28.2" text-anchor="start" fill="#000" >Circle fitting</text>
<text x="821.00" y="390.90" font-size="27.8" text-anchor="middle" fill="#000" ><tspan class="it">r</tspan> = 18.5 nm</text>
<line x1="825.70" y1="410.20" x2="825.70" y2="528.00" stroke="#000" stroke-width="3.3" />
<polygon points="825.70,552.50 837.40,506.50 825.70,520.76 814.00,506.50" fill="#000"/>
<line x1="888.10" y1="455.40" x2="911.55" y2="479.26" stroke="#000" stroke-width="2.6" />
<line x1="943.15" y1="517.64" x2="957.40" y2="537.00" stroke="#000" stroke-width="2.6" />
<line x1="924.50" y1="494.50" x2="930.20" y2="502.40" stroke="#000" stroke-width="1.6" />
<polygon points="924.80,495.00 911.21,468.49 908.66,475.99 900.84,477.30" fill="#000"/>
<polygon points="930.20,502.40 943.14,528.14 945.79,520.75 953.51,519.34" fill="#000"/>
<text x="1006.30" y="570.40" font-size="27.3" text-anchor="end" fill="#000" >~ 1.7 nm</text>
<text x="550.20" y="25.00" font-size="32" text-anchor="start" fill="#000" letter-spacing="0.2">(b)</text>
<text transform="translate(572.0,269.3) rotate(-90)" font-size="32" text-anchor="middle"><tspan class="it">z</tspan> (nm)</text>
<text x="835.80" y="653.00" font-size="32" text-anchor="middle" fill="#000" ><tspan class="it">y</tspan> (nm)</text>
</g>
<g id="panel-c">
<clipPath id="clipC"><rect x="112.5" y="667.0" width="328.0" height="452.0"/></clipPath>
<g clip-path="url(#clipC)">
<path d="M129.50,667.00 C129.67,672.50 130.17,687.83 130.50,700.00 C130.83,712.17 131.20,726.67 131.50,740.00 C131.80,753.33 132.05,766.67 132.30,780.00 C132.55,793.33 132.75,806.67 133.00,820.00 C133.25,833.33 133.60,850.00 133.80,860.00 C134.00,870.00 133.95,869.60 134.20,880.00 C134.45,890.40 134.97,908.23 135.30,922.40 C135.63,936.57 135.92,951.48 136.20,965.00 C136.48,978.52 136.70,994.33 137.00,1003.50 C137.30,1012.67 137.58,1014.70 138.00,1020.00 C138.42,1025.30 138.80,1030.63 139.50,1035.30 C140.20,1039.97 141.13,1043.88 142.20,1048.00 C143.27,1052.12 144.47,1056.25 145.90,1060.00 C147.33,1063.75 149.03,1067.27 150.80,1070.50 C152.57,1073.73 154.47,1076.82 156.50,1079.40 C158.53,1081.98 160.65,1083.93 163.00,1086.00 C165.35,1088.07 168.18,1090.05 170.60,1091.80 C173.02,1093.55 175.15,1095.03 177.50,1096.50 C179.85,1097.97 182.03,1099.45 184.70,1100.60 C187.37,1101.75 191.03,1102.87 193.50,1103.40 C195.97,1103.93 197.43,1103.80 199.50,1103.80 C201.57,1103.80 203.65,1103.53 205.90,1103.40 C208.15,1103.27 210.65,1103.28 213.00,1103.00 C215.35,1102.72 217.67,1102.27 220.00,1101.70 C222.33,1101.13 224.65,1100.55 227.00,1099.60 C229.35,1098.65 231.68,1097.77 234.10,1096.00 C236.52,1094.23 239.13,1091.47 241.50,1089.00 C243.87,1086.53 246.13,1083.45 248.30,1081.20 C250.47,1078.95 252.45,1077.37 254.50,1075.50 C256.55,1073.63 258.77,1071.92 260.60,1070.00 C262.43,1068.08 264.03,1066.25 265.50,1064.00 C266.97,1061.75 268.25,1059.42 269.40,1056.50 C270.55,1053.58 271.52,1050.03 272.40,1046.50 C273.28,1042.97 274.05,1038.88 274.70,1035.30 C275.35,1031.72 275.82,1028.53 276.30,1025.00 C276.78,1021.47 277.15,1019.93 277.60,1014.10 C278.05,1008.27 278.60,997.65 279.00,990.00 C279.40,982.35 279.62,975.70 280.00,968.20 C280.38,960.70 280.83,952.63 281.30,945.00 C281.77,937.37 282.32,930.23 282.80,922.40 C283.28,914.57 283.60,905.30 284.20,898.00 C284.80,890.70 285.50,883.98 286.40,878.60 C287.30,873.22 288.00,870.00 289.60,865.70 C291.20,861.40 294.38,857.83 296.00,852.80 C297.62,847.77 298.20,841.97 299.30,835.50 C300.40,829.03 301.52,821.18 302.60,814.00 C303.68,806.82 304.55,799.60 305.80,792.40 C307.05,785.20 308.67,777.28 310.10,770.80 C311.53,764.32 312.50,758.53 314.40,753.50 C316.30,748.47 319.70,745.63 321.50,740.60 C323.30,735.57 323.87,729.40 325.20,723.30 C326.53,717.20 327.88,709.75 329.50,704.00 C331.12,698.25 332.82,694.97 334.90,688.80 C336.98,682.63 340.82,670.63 342.00,667.00" fill="none" stroke="#000" stroke-width="3.4" stroke-linejoin="round"/>
<path d="M128.70,667.00 C128.72,682.50 128.75,724.50 128.80,760.00 C128.85,795.50 128.97,842.33 129.00,880.00 C129.03,917.67 128.93,964.33 129.00,986.00 C129.07,1007.67 129.23,1002.95 129.40,1010.00 C129.57,1017.05 129.68,1022.80 130.00,1028.30 C130.32,1033.80 130.72,1038.30 131.30,1043.00 C131.88,1047.70 132.50,1052.67 133.50,1056.50 C134.50,1060.33 135.82,1063.07 137.30,1066.00 C138.78,1068.93 140.45,1071.50 142.40,1074.10 C144.35,1076.70 146.65,1079.23 149.00,1081.60 C151.35,1083.97 154.12,1086.40 156.50,1088.30 C158.88,1090.20 160.95,1091.53 163.30,1093.00 C165.65,1094.47 168.23,1095.93 170.60,1097.10 C172.97,1098.27 175.15,1099.12 177.50,1100.00 C179.85,1100.88 182.03,1101.73 184.70,1102.40 C187.37,1103.07 190.55,1103.65 193.50,1104.00 C196.45,1104.35 199.48,1104.57 202.40,1104.50 C205.32,1104.43 208.07,1104.07 211.00,1103.60 C213.93,1103.13 217.00,1102.58 220.00,1101.70 C223.00,1100.82 226.05,1099.65 229.00,1098.30 C231.95,1096.95 235.03,1095.62 237.70,1093.60 C240.37,1091.58 242.65,1088.85 245.00,1086.20 C247.35,1083.55 249.47,1080.82 251.80,1077.70 C254.13,1074.58 256.65,1071.03 259.00,1067.50 C261.35,1063.97 263.83,1060.58 265.90,1056.50 C267.97,1052.42 269.63,1047.70 271.40,1043.00 C273.17,1038.30 274.78,1033.63 276.50,1028.30 C278.22,1022.97 279.95,1016.88 281.70,1011.00 C283.45,1005.12 285.23,999.00 287.00,993.00 C288.77,987.00 290.52,980.88 292.30,975.00 C294.08,969.12 295.67,963.37 297.70,957.70 C299.73,952.03 302.15,946.30 304.50,941.00 C306.85,935.70 309.55,930.65 311.80,925.90 C314.05,921.15 315.95,916.82 318.00,912.50 C320.05,908.18 322.00,904.57 324.10,900.00 C326.20,895.43 328.08,891.53 330.60,885.10 C333.12,878.67 336.87,868.23 339.20,861.40 C341.53,854.57 342.43,849.85 344.60,844.10 C346.77,838.35 350.03,832.65 352.20,826.90 C354.37,821.15 355.45,815.00 357.60,809.60 C359.75,804.20 361.70,800.60 365.10,794.50 C368.50,788.40 373.68,781.25 378.00,773.00 C382.32,764.75 386.67,753.10 391.00,745.00 C395.33,736.90 398.62,734.12 404.00,724.40 C409.38,714.68 418.10,696.05 423.30,686.70 C428.50,677.35 432.92,671.92 435.20,668.30 C437.48,664.68 436.70,665.55 437.00,665.00" fill="none" stroke="#f40000" stroke-width="3.4" stroke-dasharray="7.8 4.3" stroke-linejoin="round"/>
</g>
<rect x="112.5" y="667.0" width="328.0" height="452.0" fill="none" stroke="#000" stroke-width="2.1"/>
<line x1="102.50" y1="1103.00" x2="112.50" y2="1103.00" stroke="#000" stroke-width="2" />
<line x1="430.50" y1="1103.00" x2="440.50" y2="1103.00" stroke="#000" stroke-width="2" />
<text x="97.50" y="1112.30" font-size="28.4" text-anchor="end" fill="#000" >0</text>
<line x1="107.50" y1="1027.80" x2="112.50" y2="1027.80" stroke="#000" stroke-width="2" />
<line x1="435.50" y1="1027.80" x2="440.50" y2="1027.80" stroke="#000" stroke-width="2" />
<line x1="102.50" y1="952.60" x2="112.50" y2="952.60" stroke="#000" stroke-width="2" />
<line x1="430.50" y1="952.60" x2="440.50" y2="952.60" stroke="#000" stroke-width="2" />
<text x="97.50" y="961.90" font-size="28.4" text-anchor="end" fill="#000" >50</text>
<line x1="107.50" y1="877.40" x2="112.50" y2="877.40" stroke="#000" stroke-width="2" />
<line x1="435.50" y1="877.40" x2="440.50" y2="877.40" stroke="#000" stroke-width="2" />
<line x1="102.50" y1="802.20" x2="112.50" y2="802.20" stroke="#000" stroke-width="2" />
<line x1="430.50" y1="802.20" x2="440.50" y2="802.20" stroke="#000" stroke-width="2" />
<text x="97.50" y="811.50" font-size="28.4" text-anchor="end" fill="#000" >100</text>
<line x1="107.50" y1="727.00" x2="112.50" y2="727.00" stroke="#000" stroke-width="2" />
<line x1="435.50" y1="727.00" x2="440.50" y2="727.00" stroke="#000" stroke-width="2" />
<line x1="126.88" y1="1119.00" x2="126.88" y2="1124.00" stroke="#000" stroke-width="2" />
<line x1="126.88" y1="667.00" x2="126.88" y2="672.00" stroke="#000" stroke-width="2" />
<line x1="205.00" y1="1119.00" x2="205.00" y2="1128.50" stroke="#000" stroke-width="2" />
<line x1="205.00" y1="667.00" x2="205.00" y2="676.50" stroke="#000" stroke-width="2" />
<text x="195.00" y="1155.30" font-size="28.4" text-anchor="middle" fill="#000" >0</text>
<line x1="283.12" y1="1119.00" x2="283.12" y2="1124.00" stroke="#000" stroke-width="2" />
<line x1="283.12" y1="667.00" x2="283.12" y2="672.00" stroke="#000" stroke-width="2" />
<line x1="361.25" y1="1119.00" x2="361.25" y2="1128.50" stroke="#000" stroke-width="2" />
<line x1="361.25" y1="667.00" x2="361.25" y2="676.50" stroke="#000" stroke-width="2" />
<text x="351.25" y="1155.30" font-size="28.4" text-anchor="middle" fill="#000" >50</text>
<line x1="439.38" y1="1119.00" x2="439.38" y2="1124.00" stroke="#000" stroke-width="2" />
<line x1="439.38" y1="667.00" x2="439.38" y2="672.00" stroke="#000" stroke-width="2" />
<line x1="270.50" y1="1065.80" x2="334.00" y2="1065.80" stroke="#000" stroke-width="3.4" />
<line x1="270.5" y1="1101.3" x2="334" y2="1101.3" stroke="#f40000" stroke-width="3.2" stroke-dasharray="8 4.4"/>
<text x="341.00" y="1075.20" font-size="28.0" text-anchor="start" fill="#000" >y profile</text>
<text x="341.00" y="1110.00" font-size="28.0" text-anchor="start" fill="#000" >x profile</text>
<text x="1.00" y="691.20" font-size="32" text-anchor="start" fill="#000" letter-spacing="1">(c)</text>
<text transform="translate(31.0,870) rotate(-90)" font-size="32" text-anchor="middle"><tspan class="it">z</tspan> (nm)</text>
<text x="277.00" y="1186.40" font-size="32" text-anchor="middle" fill="#000" ><tspan class="it">x</tspan>, <tspan class="it">y</tspan> (nm)</text>
</g>
<g id="panel-d">
<text x="503.60" y="691.40" font-size="32" text-anchor="start" fill="#000" letter-spacing="0.2">(d)</text>
<g stroke="#cdcdcd" stroke-width="1.5" fill="none">
<line x1="736.9" y1="746.3" x2="637.1" y2="875.7" stroke-dasharray="3.5 1.8"/>
<line x1="637.1" y1="875.7" x2="625.0" y2="1095.7" stroke-dasharray="3.5 1.8"/>
<line x1="791.7" y1="760.5" x2="683.8" y2="886.5" stroke-dasharray="3.5 1.8"/>
<line x1="683.8" y1="886.5" x2="676.5" y2="1103.2" stroke-dasharray="3.5 1.8"/>
<line x1="843.5" y1="774.0" x2="729.7" y2="897.0" stroke-dasharray="3.5 1.8"/>
<line x1="729.7" y1="897.0" x2="726.9" y2="1110.6" stroke-dasharray="3.5 1.8"/>
<line x1="896.4" y1="787.7" x2="774.0" y2="907.1" stroke-dasharray="3.5 1.8"/>
<line x1="774.0" y1="907.1" x2="775.4" y2="1117.7" stroke-dasharray="3.5 1.8"/>
<line x1="948.2" y1="801.2" x2="815.9" y2="916.8" stroke-dasharray="3.5 1.8"/>
<line x1="815.9" y1="916.8" x2="821.2" y2="1124.4" stroke-dasharray="3.5 1.8"/>
<line x1="621.7" y1="856.9" x2="851.9" y2="909.0" stroke-dasharray="3.5 1.8"/>
<line x1="851.9" y1="909.0" x2="860.0" y2="1118.6" />
<line x1="636.0" y1="837.6" x2="870.5" y2="892.5" stroke-dasharray="3.5 1.8"/>
<line x1="870.5" y1="892.5" x2="880.0" y2="1106.5" />
<line x1="651.2" y1="817.1" x2="890.3" y2="875.1" stroke-dasharray="3.5 1.8"/>
<line x1="890.3" y1="875.1" x2="901.3" y2="1093.8" />
<line x1="666.3" y1="796.6" x2="911.0" y2="856.9" stroke-dasharray="3.5 1.8"/>
<line x1="911.0" y1="856.9" x2="923.5" y2="1080.4" />
<line x1="683.2" y1="773.8" x2="932.8" y2="837.7" stroke-dasharray="3.5 1.8"/>
<line x1="932.8" y1="837.7" x2="947.0" y2="1066.2" />
<line x1="699.6" y1="751.7" x2="955.6" y2="817.5" stroke-dasharray="3.5 1.8"/>
<line x1="955.6" y1="817.5" x2="971.8" y2="1051.3" />
<line x1="600.4" y1="1045.3" x2="843.2" y2="1085.0" stroke-dasharray="3.5 1.8"/>
<line x1="843.2" y1="1086.1" x2="981.9" y2="994.9" />
<line x1="603.4" y1="999.3" x2="841.7" y2="1042.4" stroke-dasharray="3.5 1.8"/>
<line x1="841.8" y1="1044.0" x2="978.4" y2="946.3" />
<line x1="606.4" y1="955.0" x2="840.3" y2="1001.2" stroke-dasharray="3.5 1.8"/>
<line x1="840.3" y1="1002.8" x2="974.9" y2="899.0" />
<line x1="609.2" y1="912.4" x2="838.9" y2="961.4" stroke-dasharray="3.5 1.8"/>
<line x1="838.9" y1="962.5" x2="971.6" y2="852.8" />
</g>
<g stroke="#000" stroke-width="2.4" fill="none" stroke-linecap="square">
<line x1="709.0" y1="739.0" x2="612.0" y2="870.0"/>
<line x1="709.0" y1="739.0" x2="968.2" y2="806.4"/>
<line x1="612.0" y1="870.0" x2="597.3" y2="1091.6"/>
<line x1="597.3" y1="1091.6" x2="844.7" y2="1127.8"/>
<g stroke-width="2.0">
<line x1="844.7" y1="1127.8" x2="985.4" y2="1043.1"/>
<line x1="968.2" y1="806.4" x2="985.4" y2="1043.1"/>
<line x1="968.2" y1="806.4" x2="837.5" y2="921.7"/>
<line x1="612.0" y1="870.0" x2="837.5" y2="921.7"/>
<line x1="837.5" y1="921.7" x2="844.7" y2="1127.8"/>
</g>
<line x1="709.0" y1="739.0" x2="692.5" y2="734.7"/>
<line x1="709.0" y1="739.0" x2="715.8" y2="729.8"/>
<line x1="968.2" y1="806.4" x2="976.8" y2="798.8"/>
<line x1="699.6" y1="751.7" x2="687.4" y2="748.8"/>
<line x1="691.3" y1="762.8" x2="675.3" y2="759.0"/>
<line x1="683.2" y1="773.8" x2="671.0" y2="770.9"/>
<line x1="674.8" y1="785.2" x2="658.7" y2="781.4"/>
<line x1="666.3" y1="796.6" x2="654.2" y2="793.7"/>
<line x1="658.8" y1="806.9" x2="642.7" y2="803.0"/>
<line x1="651.2" y1="817.1" x2="639.0" y2="814.1"/>
<line x1="643.5" y1="827.4" x2="627.5" y2="823.5"/>
<line x1="636.0" y1="837.6" x2="623.8" y2="834.7"/>
<line x1="628.8" y1="847.3" x2="612.7" y2="843.5"/>
<line x1="621.7" y1="856.9" x2="609.6" y2="854.0"/>
<line x1="615.4" y1="865.4" x2="599.4" y2="861.5"/>
<line x1="612.0" y1="870.0" x2="601.2" y2="868.1"/>
<line x1="610.6" y1="891.7" x2="596.3" y2="889.2"/>
<line x1="609.2" y1="912.4" x2="598.4" y2="910.5"/>
<line x1="607.8" y1="933.5" x2="593.5" y2="931.0"/>
<line x1="606.4" y1="955.0" x2="595.5" y2="953.1"/>
<line x1="604.9" y1="976.9" x2="590.6" y2="974.5"/>
<line x1="603.4" y1="999.3" x2="592.6" y2="997.4"/>
<line x1="601.9" y1="1022.1" x2="587.6" y2="1019.6"/>
<line x1="600.4" y1="1045.3" x2="589.5" y2="1043.4"/>
<line x1="598.8" y1="1069.0" x2="584.5" y2="1066.5"/>
<line x1="597.3" y1="1091.6" x2="586.5" y2="1089.7"/>
<line x1="736.9" y1="746.3" x2="742.0" y2="739.8"/>
<line x1="765.8" y1="753.8" x2="770.8" y2="747.3"/>
<line x1="791.7" y1="760.5" x2="796.8" y2="754.1"/>
<line x1="817.6" y1="767.2" x2="822.7" y2="760.8"/>
<line x1="843.5" y1="774.0" x2="848.6" y2="767.5"/>
<line x1="870.0" y1="780.9" x2="875.0" y2="774.4"/>
<line x1="896.4" y1="787.7" x2="901.5" y2="781.3"/>
<line x1="922.3" y1="794.5" x2="927.4" y2="788.0"/>
<line x1="948.2" y1="801.2" x2="953.3" y2="794.8"/>
</g>
<clipPath id="clipS"><path d="M661.30,819.60 C662.00,816.65 663.07,815.27 664.60,813.20 C666.13,811.13 667.77,809.32 670.50,807.20 C673.23,805.08 677.42,802.60 681.00,800.50 C684.58,798.40 688.08,796.48 692.00,794.60 C695.92,792.72 699.93,790.83 704.50,789.20 C709.07,787.57 714.15,786.07 719.40,784.80 C724.65,783.53 730.32,782.42 736.00,781.60 C741.68,780.78 747.83,780.30 753.50,779.90 C759.17,779.50 764.33,779.30 770.00,779.20 C775.67,779.10 781.67,779.12 787.50,779.30 C793.33,779.48 799.32,779.83 805.00,780.30 C810.68,780.77 815.93,781.28 821.60,782.10 C827.27,782.92 833.33,783.92 839.00,785.20 C844.67,786.48 850.60,788.08 855.60,789.80 C860.60,791.52 864.75,793.37 869.00,795.50 C873.25,797.63 877.52,800.30 881.10,802.60 C884.68,804.90 887.65,806.95 890.50,809.30 C893.35,811.65 896.03,814.08 898.20,816.70 C900.37,819.32 902.08,822.15 903.50,825.00 C904.92,827.85 906.03,830.97 906.70,833.80 C907.37,836.63 907.50,839.17 907.50,842.00 C907.50,844.83 907.08,845.55 906.70,850.80 C906.32,856.05 905.78,865.97 905.20,873.50 C904.62,881.03 903.90,888.43 903.20,896.00 C902.50,903.57 901.78,911.73 901.00,918.90 C900.22,926.07 899.45,932.38 898.50,939.00 C897.55,945.62 896.47,952.43 895.30,958.60 C894.13,964.77 892.92,970.33 891.50,976.00 C890.08,981.67 888.42,987.85 886.80,992.60 C885.18,997.35 883.68,1000.72 881.80,1004.50 C879.92,1008.28 877.67,1011.97 875.50,1015.30 C873.33,1018.63 871.17,1021.67 868.80,1024.50 C866.43,1027.33 863.77,1029.80 861.30,1032.30 C858.83,1034.80 856.37,1037.13 854.00,1039.50 C851.63,1041.87 849.00,1044.33 847.10,1046.50 C845.20,1048.67 844.02,1050.60 842.60,1052.50 C841.18,1054.40 840.62,1055.85 838.60,1057.90 C836.58,1059.95 833.33,1062.68 830.50,1064.80 C827.67,1066.92 824.93,1068.97 821.60,1070.60 C818.27,1072.23 814.28,1073.42 810.50,1074.60 C806.72,1075.78 802.73,1076.77 798.90,1077.70 C795.07,1078.63 791.28,1079.48 787.50,1080.20 C783.72,1080.92 779.95,1081.48 776.20,1082.00 C772.45,1082.52 768.78,1083.07 765.00,1083.30 C761.22,1083.53 757.17,1083.75 753.50,1083.40 C749.83,1083.05 746.32,1082.15 743.00,1081.20 C739.68,1080.25 736.85,1079.15 733.60,1077.70 C730.35,1076.25 726.80,1074.38 723.50,1072.50 C720.20,1070.62 716.88,1068.55 713.80,1066.40 C710.72,1064.25 707.85,1061.97 705.00,1059.60 C702.15,1057.23 699.53,1055.22 696.70,1052.20 C693.87,1049.18 690.83,1045.28 688.00,1041.50 C685.17,1037.72 682.20,1033.58 679.70,1029.50 C677.20,1025.42 675.12,1021.25 673.00,1017.00 C670.88,1012.75 668.80,1008.50 667.00,1004.00 C665.20,999.50 663.63,994.73 662.20,990.00 C660.77,985.27 659.35,980.60 658.40,975.60 C657.45,970.60 656.97,965.20 656.50,960.00 C656.03,954.80 655.73,950.57 655.60,944.40 C655.47,938.23 655.55,930.10 655.70,923.00 C655.85,915.90 656.23,908.97 656.50,901.80 C656.77,894.63 656.98,887.08 657.30,880.00 C657.62,872.92 658.03,865.13 658.40,859.30 C658.77,853.47 659.17,849.73 659.50,845.00 C659.83,840.27 660.10,835.13 660.40,830.90 C660.70,826.67 660.60,822.55 661.30,819.60Z"/></clipPath>
<defs><g id="strips" fill="none" stroke-width="3.6" stroke-linejoin="round">
<rect x="650" y="770" width="265" height="320" fill="#00b818" stroke="none"/>
<path d="M650,834.3 662,817.2 674,803.6 686,796.2 698,790.3 710,785.8 722,782.4 734,780.0 746,778.7 758,777.7 770,777.2 782,777.3 794,777.7 806,778.4 818,779.7 830,781.5 842,784.0 854,787.3 866,792.2 878,798.9 890,807.2 902,821.2 914,849.2" stroke="#cb1400"/>
<path d="M650,835.1 662,818.4 674,805.1 686,798.0 698,792.2 710,787.8 722,784.5 734,782.2 746,780.8 758,779.9 770,779.4 782,779.5 794,779.9 806,780.6 818,781.9 830,783.8 842,786.2 854,789.6 866,794.4 878,801.0 890,809.1 902,822.8 914,850.1" stroke="#cd1500"/>
<path d="M650,835.8 662,819.5 674,806.7 686,799.7 698,794.1 710,789.8 722,786.6 734,784.3 746,783.0 758,782.1 770,781.6 782,781.7 794,782.1 806,782.9 818,784.2 830,786.1 842,788.5 854,791.8 866,796.6 878,803.1 890,811.1 902,824.4 914,851.0" stroke="#ce1700"/>
<path d="M650,836.5 662,820.7 674,808.2 686,801.5 698,796.0 710,791.8 722,788.7 734,786.4 746,785.2 758,784.3 770,783.8 782,783.9 794,784.3 806,785.1 818,786.4 830,788.3 842,790.8 854,794.1 866,798.8 878,805.2 890,813.0 902,826.1 914,851.9" stroke="#d01800"/>
<path d="M650,837.2 662,821.9 674,809.8 686,803.2 698,797.9 710,793.8 722,790.7 734,788.6 746,787.3 758,786.5 770,786.0 782,786.1 794,786.5 806,787.3 818,788.7 830,790.6 842,793.0 854,796.3 866,801.0 878,807.2 890,815.0 902,827.7 914,852.9" stroke="#d21900"/>
<path d="M650,838.0 662,823.1 674,811.3 686,804.9 698,799.7 710,795.8 722,792.8 734,790.7 746,789.5 758,788.6 770,788.2 782,788.3 794,788.7 806,789.6 818,790.9 830,792.9 842,795.3 854,798.6 866,803.2 878,809.3 890,816.9 902,829.4 914,853.8" stroke="#d31a00"/>
<path d="M650,838.7 662,824.3 674,812.9 686,806.7 698,801.6 710,797.8 722,794.9 734,792.9 746,791.6 758,790.8 770,790.4 782,790.4 794,790.9 806,791.8 818,793.2 830,795.1 842,797.6 854,800.8 866,805.4 878,811.4 890,818.9 902,831.0 914,854.7" stroke="#d51b00"/>
<path d="M650,839.4 662,825.5 674,814.5 686,808.4 698,803.5 710,799.8 722,797.0 734,795.0 746,793.8 758,793.0 770,792.6 782,792.6 794,793.2 806,794.0 818,795.5 830,797.4 842,799.9 854,803.1 866,807.6 878,813.5 890,820.8 902,832.7 914,855.7" stroke="#d61d00"/>
<path d="M650,840.1 662,826.7 674,816.0 686,810.2 698,805.4 710,801.8 722,799.1 734,797.1 746,796.0 758,795.2 770,794.8 782,794.8 794,795.4 806,796.3 818,797.7 830,799.7 842,802.1 854,805.3 866,809.8 878,815.6 890,822.8 902,834.3 914,856.6" stroke="#d82000"/>
<path d="M650,840.9 662,827.9 674,817.6 686,811.9 698,807.3 710,803.8 722,801.1 734,799.3 746,798.1 758,797.4 770,797.0 782,797.0 794,797.6 806,798.5 818,800.0 830,801.9 842,804.4 854,807.6 866,812.0 878,817.7 890,824.7 902,835.9 914,857.5" stroke="#d92700"/>
<path d="M650,841.6 662,829.1 674,819.1 686,813.7 698,809.2 710,805.8 722,803.2 734,801.4 746,800.3 758,799.6 770,799.2 782,799.2 794,799.8 806,800.8 818,802.2 830,804.2 842,806.7 854,809.8 866,814.2 878,819.8 890,826.7 902,837.6 914,858.5" stroke="#da2f00"/>
<path d="M650,842.3 662,830.3 674,820.7 686,815.4 698,811.1 710,807.8 722,805.3 734,803.5 746,802.5 758,801.7 770,801.3 782,801.4 794,802.0 806,803.0 818,804.5 830,806.5 842,808.9 854,812.1 866,816.4 878,821.9 890,828.6 902,839.2 914,859.4" stroke="#dc3600"/>
<path d="M650,843.0 662,831.5 674,822.2 686,817.1 698,813.0 710,809.8 722,807.4 734,805.7 746,804.6 758,803.9 770,803.5 782,803.6 794,804.2 806,805.2 818,806.7 830,808.7 842,811.2 854,814.3 866,818.6 878,824.0 890,830.6 902,840.9 914,860.3" stroke="#dd3e00"/>
<path d="M650,843.8 662,832.7 674,823.8 686,818.9 698,814.9 710,811.8 722,809.5 734,807.8 746,806.8 758,806.1 770,805.7 782,805.8 794,806.5 806,807.5 818,809.0 830,811.0 842,813.5 854,816.6 866,820.8 878,826.1 890,832.5 902,842.5 914,861.3" stroke="#de4500"/>
<path d="M650,844.5 662,833.8 674,825.4 686,820.6 698,816.8 710,813.8 722,811.5 734,809.9 746,809.0 758,808.3 770,807.9 782,808.0 794,808.7 806,809.7 818,811.3 830,813.3 842,815.7 854,818.8 866,823.0 878,828.2 890,834.4 902,844.2 914,862.2" stroke="#e04d00"/>
<path d="M650,845.2 662,835.0 674,826.9 686,822.4 698,818.7 710,815.8 722,813.6 734,812.1 746,811.1 758,810.5 770,810.1 782,810.2 794,810.9 806,812.0 818,813.5 830,815.5 842,818.0 854,821.1 866,825.1 878,830.3 890,836.4 902,845.8 914,863.1" stroke="#e15400"/>
<path d="M650,845.9 662,836.2 674,828.5 686,824.1 698,820.5 710,817.8 722,815.7 734,814.2 746,813.3 758,812.7 770,812.3 782,812.4 794,813.1 806,814.2 818,815.8 830,817.8 842,820.3 854,823.3 866,827.3 878,832.4 890,838.3 902,847.4 914,864.0" stroke="#e25c00"/>
<path d="M650,846.7 662,837.4 674,830.0 686,825.9 698,822.4 710,819.8 722,817.8 734,816.3 746,815.5 758,814.8 770,814.5 782,814.6 794,815.3 806,816.4 818,818.0 830,820.1 842,822.5 854,825.6 866,829.5 878,834.5 890,840.3 902,849.1 914,865.0" stroke="#e26400"/>
<path d="M650,847.4 662,838.6 674,831.6 686,827.6 698,824.3 710,821.8 722,819.9 734,818.5 746,817.6 758,817.0 770,816.7 782,816.8 794,817.5 806,818.7 818,820.3 830,822.3 842,824.8 854,827.8 866,831.7 878,836.5 890,842.2 902,850.7 914,865.9" stroke="#e26c00"/>
<path d="M650,848.1 662,839.8 674,833.2 686,829.3 698,826.2 710,823.8 722,821.9 734,820.6 746,819.8 758,819.2 770,818.9 782,819.0 794,819.7 806,820.9 818,822.5 830,824.6 842,827.1 854,830.1 866,833.9 878,838.6 890,844.2 902,852.4 914,866.8" stroke="#e27400"/>
<path d="M650,848.8 662,841.0 674,834.7 686,831.1 698,828.1 710,825.8 722,824.0 734,822.7 746,821.9 758,821.4 770,821.1 782,821.2 794,822.0 806,823.2 818,824.8 830,826.9 842,829.4 854,832.3 866,836.1 878,840.7 890,846.1 902,854.0 914,867.8" stroke="#e27c00"/>
<path d="M650,849.6 662,842.2 674,836.3 686,832.8 698,830.0 710,827.8 722,826.1 734,824.9 746,824.1 758,823.6 770,823.3 782,823.4 794,824.2 806,825.4 818,827.1 830,829.1 842,831.6 854,834.6 866,838.3 878,842.8 890,848.1 902,855.7 914,868.7" stroke="#e28300"/>
<path d="M650,850.3 662,843.4 674,837.8 686,834.6 698,831.9 710,829.8 722,828.2 734,827.0 746,826.3 758,825.8 770,825.5 782,825.6 794,826.4 806,827.6 818,829.3 830,831.4 842,833.9 854,836.8 866,840.5 878,844.9 890,850.0 902,857.3 914,869.6" stroke="#e28b00"/>
<path d="M650,851.0 662,844.6 674,839.4 686,836.3 698,833.8 710,831.8 722,830.3 734,829.2 746,828.4 758,828.0 770,827.7 782,827.8 794,828.6 806,829.9 818,831.6 830,833.7 842,836.2 854,839.1 866,842.7 878,847.0 890,852.0 902,858.9 914,870.6" stroke="#e29300"/>
<path d="M650,851.7 662,845.8 674,840.9 686,838.1 698,835.7 710,833.8 722,832.4 734,831.3 746,830.6 758,830.1 770,829.9 782,830.0 794,830.8 806,832.1 818,833.8 830,836.0 842,838.4 854,841.3 866,844.9 878,849.1 890,853.9 902,860.6 914,871.5" stroke="#e29b00"/>
<path d="M650,852.5 662,847.0 674,842.5 686,839.8 698,837.6 710,835.8 722,834.4 734,833.4 746,832.8 758,832.3 770,832.1 782,832.2 794,833.0 806,834.3 818,836.1 830,838.2 842,840.7 854,843.6 866,847.1 878,851.2 890,855.9 902,862.2 914,872.4" stroke="#e1a200"/>
<path d="M650,853.2 662,848.2 674,844.1 686,841.5 698,839.5 710,837.8 722,836.5 734,835.6 746,834.9 758,834.5 770,834.3 782,834.4 794,835.2 806,836.6 818,838.3 830,840.5 842,843.0 854,845.9 866,849.3 878,853.3 890,857.8 902,863.9 914,873.4" stroke="#dfa700"/>
<path d="M650,853.9 662,849.3 674,845.6 686,843.3 698,841.3 710,839.8 722,838.6 734,837.7 746,837.1 758,836.7 770,836.5 782,836.6 794,837.5 806,838.8 818,840.6 830,842.8 842,845.2 854,848.1 866,851.5 878,855.4 890,859.8 902,865.5 914,874.3" stroke="#deac00"/>
<path d="M650,854.6 662,850.5 674,847.2 686,845.0 698,843.2 710,841.8 722,840.7 734,839.8 746,839.3 758,838.9 770,838.7 782,838.8 794,839.7 806,841.1 818,842.9 830,845.0 842,847.5 854,850.4 866,853.7 878,857.5 890,861.7 902,867.1 914,875.2" stroke="#dcb200"/>
<path d="M650,855.4 662,851.7 674,848.7 686,846.8 698,845.1 710,843.8 722,842.8 734,842.0 746,841.4 758,841.1 770,840.9 782,841.0 794,841.9 806,843.3 818,845.1 830,847.3 842,849.8 854,852.6 866,855.9 878,859.6 890,863.7 902,868.8 914,876.2" stroke="#dbb700"/>
<path d="M650,856.1 662,852.9 674,850.3 686,848.5 698,847.0 710,845.8 722,844.8 734,844.1 746,843.6 758,843.2 770,843.0 782,843.2 794,844.1 806,845.5 818,847.4 830,849.6 842,852.0 854,854.9 866,858.1 878,861.7 890,865.6 902,870.4 914,877.1" stroke="#d9bc00"/>
<path d="M650,856.8 662,854.1 674,851.8 686,850.3 698,848.9 710,847.8 722,846.9 734,846.2 746,845.8 758,845.4 770,845.2 782,845.4 794,846.3 806,847.8 818,849.6 830,851.8 842,854.3 854,857.1 866,860.3 878,863.7 890,867.6 902,872.1 914,878.0" stroke="#d8c200"/>
<path d="M650,857.5 662,855.3 674,853.4 686,852.0 698,850.8 710,849.8 722,849.0 734,848.4 746,847.9 758,847.6 770,847.4 782,847.6 794,848.5 806,850.0 818,851.9 830,854.1 842,856.6 854,859.4 866,862.4 878,865.8 890,869.5 902,873.7 914,878.9" stroke="#d6c700"/>
<path d="M650,858.3 662,856.5 674,855.0 686,853.7 698,852.7 710,851.8 722,851.1 734,850.5 746,850.1 758,849.8 770,849.6 782,849.7 794,850.7 806,852.3 818,854.1 830,856.4 842,858.9 854,861.6 866,864.6 878,867.9 890,871.5 902,875.4 914,879.9" stroke="#d4cc00"/>
<path d="M650,859.0 662,857.7 674,856.5 686,855.5 698,854.6 710,853.8 722,853.2 734,852.6 746,852.2 758,852.0 770,851.8 782,851.9 794,853.0 806,854.5 818,856.4 830,858.6 842,861.1 854,863.9 866,866.8 878,870.0 890,873.4 902,877.0 914,880.8" stroke="#d1cf00"/>
<path d="M650,861.0 662,859.8 674,858.7 686,857.6 698,856.8 710,856.0 722,855.3 734,854.8 746,854.4 758,854.2 770,854.0 782,854.1 794,855.2 806,856.7 818,858.7 830,861.0 842,863.5 854,866.3 866,869.3 878,872.6 890,876.0 902,879.6 914,883.4" stroke="#cacf00"/>
<path d="M650,863.2 662,862.0 674,860.8 686,859.8 698,858.9 710,858.2 722,857.5 734,857.0 746,856.6 758,856.4 770,856.2 782,856.4 794,857.4 806,859.0 818,861.0 830,863.3 842,865.9 854,868.7 866,871.8 878,875.1 890,878.6 902,882.3 914,886.2" stroke="#c3cf00"/>
<path d="M650,865.4 662,864.2 674,863.0 686,862.0 698,861.1 710,860.4 722,859.7 734,859.2 746,858.8 758,858.6 770,858.4 782,858.6 794,859.6 806,861.3 818,863.3 830,865.6 842,868.3 854,871.2 866,874.3 878,877.7 890,881.3 902,885.0 914,889.0" stroke="#bdcf00"/>
<path d="M650,867.6 662,866.4 674,865.2 686,864.2 698,863.3 710,862.6 722,861.9 734,861.4 746,861.0 758,860.8 770,860.6 782,860.8 794,861.9 806,863.5 818,865.6 830,868.0 842,870.7 854,873.6 866,876.8 878,880.3 890,883.9 902,887.8 914,891.8" stroke="#b6cf00"/>
<path d="M650,869.8 662,868.6 674,867.4 686,866.4 698,865.5 710,864.8 722,864.1 734,863.6 746,863.2 758,863.0 770,862.8 782,863.0 794,864.1 806,865.8 818,867.9 830,870.3 842,873.1 854,876.1 866,879.3 878,882.8 890,886.6 902,890.5 914,894.6" stroke="#afce00"/>
<path d="M650,872.0 662,870.7 674,869.6 686,868.6 698,867.7 710,867.0 722,866.3 734,865.8 746,865.4 758,865.2 770,865.0 782,865.2 794,866.3 806,868.0 818,870.2 830,872.7 842,875.4 854,878.5 866,881.8 878,885.4 890,889.2 902,893.2 914,897.4" stroke="#a8ce00"/>
<path d="M650,874.2 662,872.9 674,871.8 686,870.8 698,869.9 710,869.2 722,868.5 734,868.0 746,867.6 758,867.4 770,867.2 782,867.4 794,868.5 806,870.3 818,872.5 830,875.0 842,877.8 854,881.0 866,884.4 878,888.0 890,891.8 902,895.9 914,900.2" stroke="#a1ce00"/>
<path d="M650,876.4 662,875.1 674,874.0 686,873.0 698,872.1 710,871.4 722,870.7 734,870.2 746,869.8 758,869.6 770,869.4 782,869.6 794,870.8 806,872.5 818,874.8 830,877.3 842,880.2 854,883.4 866,886.9 878,890.6 890,894.5 902,898.6 914,902.9" stroke="#9bce00"/>
<path d="M650,878.6 662,877.3 674,876.2 686,875.2 698,874.3 710,873.6 722,872.9 734,872.4 746,872.0 758,871.8 770,871.6 782,871.8 794,873.0 806,874.8 818,877.0 830,879.7 842,882.6 854,885.9 866,889.4 878,893.1 890,897.1 902,901.3 914,905.7" stroke="#94ce00"/>
<path d="M650,880.7 662,879.5 674,878.4 686,877.4 698,876.5 710,875.8 722,875.1 734,874.6 746,874.2 758,874.0 770,873.8 782,874.0 794,875.2 806,877.0 818,879.3 830,882.0 842,885.0 854,888.3 866,891.9 878,895.7 890,899.7 902,904.0 914,908.5" stroke="#8dcd00"/>
<path d="M650,882.9 662,881.7 674,880.6 686,879.6 698,878.7 710,878.0 722,877.3 734,876.8 746,876.4 758,876.2 770,876.0 782,876.2 794,877.4 806,879.3 818,881.6 830,884.3 842,887.4 854,890.8 866,894.4 878,898.3 890,902.4 902,906.7 914,911.3" stroke="#85cc00"/>
<path d="M650,885.1 662,883.9 674,882.8 686,881.8 698,880.9 710,880.2 722,879.5 734,879.0 746,878.6 758,878.4 770,878.2 782,878.4 794,879.6 806,881.6 818,883.9 830,886.7 842,889.8 854,893.2 866,896.9 878,900.8 890,905.0 902,909.5 914,914.1" stroke="#7dcb00"/>
<path d="M650,887.3 662,886.1 674,885.0 686,884.0 698,883.1 710,882.4 722,881.7 734,881.2 746,880.8 758,880.6 770,880.4 782,880.6 794,881.9 806,883.8 818,886.2 830,889.0 842,892.2 854,895.6 866,899.4 878,903.4 890,907.7 902,912.2 914,916.9" stroke="#75ca00"/>
<path d="M650,889.5 662,888.3 674,887.2 686,886.2 698,885.3 710,884.5 722,883.9 734,883.4 746,883.0 758,882.8 770,882.6 782,882.8 794,884.1 806,886.1 818,888.5 830,891.4 842,894.6 854,898.1 866,901.9 878,906.0 890,910.3 902,914.9 914,919.7" stroke="#6dc900"/>
<path d="M650,891.7 662,890.5 674,889.3 686,888.4 698,887.5 710,886.7 722,886.1 734,885.6 746,885.2 758,885.0 770,884.8 782,885.0 794,886.3 806,888.3 818,890.8 830,893.7 842,897.0 854,900.5 866,904.4 878,908.5 890,912.9 902,917.6 914,922.5" stroke="#65c800"/>
<path d="M650,893.9 662,892.7 674,891.5 686,890.6 698,889.7 710,888.9 722,888.3 734,887.8 746,887.4 758,887.2 770,887.0 782,887.2 794,888.5 806,890.6 818,893.1 830,896.0 842,899.3 854,903.0 866,906.9 878,911.1 890,915.6 902,920.3 914,925.3" stroke="#5dc700"/>
<path d="M650,896.1 662,894.8 674,893.7 686,892.7 698,891.9 710,891.1 722,890.5 734,890.0 746,889.6 758,889.4 770,889.2 782,889.4 794,890.8 806,892.8 818,895.4 830,898.4 842,901.7 854,905.4 866,909.4 878,913.7 890,918.2 902,923.0 914,928.0" stroke="#55c600"/>
<path d="M650,898.3 662,897.0 674,895.9 686,894.9 698,894.1 710,893.3 722,892.7 734,892.2 746,891.8 758,891.6 770,891.4 782,891.6 794,893.0 806,895.1 818,897.7 830,900.7 842,904.1 854,907.9 866,911.9 878,916.3 890,920.9 902,925.7 914,930.8" stroke="#4ec500"/>
<path d="M650,900.4 662,899.2 674,898.1 686,897.1 698,896.3 710,895.5 722,894.9 734,894.4 746,894.0 758,893.8 770,893.6 782,893.8 794,895.2 806,897.3 818,900.0 830,903.1 842,906.5 854,910.3 866,914.4 878,918.8 890,923.5 902,928.4 914,933.6" stroke="#46c400"/>
<path d="M650,902.6 662,901.4 674,900.3 686,899.3 698,898.5 710,897.7 722,897.1 734,896.6 746,896.2 758,896.0 770,895.8 782,896.0 794,897.4 806,899.6 818,902.3 830,905.4 842,908.9 854,912.8 866,916.9 878,921.4 890,926.1 902,931.2 914,936.4" stroke="#3ec200"/>
<path d="M650,904.8 662,903.6 674,902.5 686,901.5 698,900.7 710,899.9 722,899.3 734,898.8 746,898.4 758,898.2 770,898.0 782,898.2 794,899.7 806,901.8 818,904.6 830,907.7 842,911.3 854,915.2 866,919.4 878,924.0 890,928.8 902,933.9 914,939.2" stroke="#36c100"/>
<path d="M650,907.0 662,905.8 674,904.7 686,903.7 698,902.9 710,902.1 722,901.5 734,901.0 746,900.6 758,900.4 770,900.2 782,900.4 794,901.9 806,904.1 818,906.9 830,910.1 842,913.7 854,917.7 866,921.9 878,926.5 890,931.4 902,936.6 914,942.0" stroke="#2ec000"/>
<path d="M650,909.2 662,908.0 674,906.9 686,905.9 698,905.1 710,904.3 722,903.7 734,903.2 746,902.8 758,902.6 770,902.4 782,902.6 794,904.1 806,906.4 818,909.2 830,912.4 842,916.1 854,920.1 866,924.5 878,929.1 890,934.1 902,939.3 914,944.8" stroke="#27bf00"/>
<path d="M650,911.4 662,910.2 674,909.1 686,908.1 698,907.3 710,906.5 722,905.9 734,905.4 746,905.0 758,904.8 770,904.6 782,904.8 794,906.3 806,908.6 818,911.5 830,914.8 842,918.5 854,922.5 866,927.0 878,931.7 890,936.7 902,942.0 914,947.6" stroke="#24bf02"/>
<path d="M650,913.6 662,912.4 674,911.3 686,910.3 698,909.4 710,908.7 722,908.1 734,907.6 746,907.2 758,907.0 770,906.8 782,907.0 794,908.6 806,910.9 818,913.7 830,917.1 842,920.9 854,925.0 866,929.5 878,934.3 890,939.3 902,944.7 914,950.3" stroke="#21be03"/>
<path d="M650,915.8 662,914.6 674,913.5 686,912.5 698,911.6 710,910.9 722,910.3 734,909.8 746,909.4 758,909.2 770,909.0 782,909.2 794,910.8 806,913.1 818,916.0 830,919.4 842,923.2 854,927.4 866,932.0 878,936.8 890,942.0 902,947.4 914,953.1" stroke="#1ebe05"/>
<path d="M650,918.0 662,916.7 674,915.7 686,914.7 698,913.8 710,913.1 722,912.5 734,912.0 746,911.6 758,911.4 770,911.2 782,911.4 794,913.0 806,915.4 818,918.3 830,921.8 842,925.6 854,929.9 866,934.5 878,939.4 890,944.6 902,950.1 914,955.9" stroke="#1bbd07"/>
<path d="M650,920.1 662,918.9 674,917.9 686,916.9 698,916.0 710,915.3 722,914.7 734,914.2 746,913.8 758,913.6 770,913.4 782,913.6 794,915.2 806,917.6 818,920.6 830,924.1 842,928.0 854,932.3 866,937.0 878,942.0 890,947.3 902,952.9 914,958.7" stroke="#18bc09"/>
<path d="M650,922.3 662,921.1 674,920.0 686,919.1 698,918.2 710,917.5 722,916.9 734,916.4 746,916.0 758,915.8 770,915.6 782,915.8 794,917.5 806,919.9 818,922.9 830,926.5 842,930.4 854,934.8 866,939.5 878,944.5 890,949.9 902,955.6 914,961.5" stroke="#15bc0a"/>
<path d="M650,924.5 662,923.3 674,922.2 686,921.3 698,920.4 710,919.7 722,919.1 734,918.6 746,918.2 758,918.0 770,917.8 782,918.0 794,919.7 806,922.1 818,925.2 830,928.8 842,932.8 854,937.2 866,942.0 878,947.1 890,952.5 902,958.3 914,964.3" stroke="#12bb0c"/>
<path d="M650,926.7 662,925.5 674,924.4 686,923.5 698,922.6 710,921.9 722,921.3 734,920.8 746,920.4 758,920.2 770,920.0 782,920.2 794,921.9 806,924.4 818,927.5 830,931.1 842,935.2 854,939.7 866,944.5 878,949.7 890,955.2 902,961.0 914,967.1" stroke="#0fbb0e"/>
<path d="M650,928.9 662,927.7 674,926.6 686,925.7 698,924.8 710,924.1 722,923.5 734,923.0 746,922.6 758,922.4 770,922.2 782,922.4 794,924.1 806,926.7 818,929.8 830,933.5 842,937.6 854,942.1 866,947.0 878,952.3 890,957.8 902,963.7 914,969.9" stroke="#0dba10"/>
<path d="M650,931.1 662,929.9 674,928.8 686,927.9 698,927.0 710,926.3 722,925.7 734,925.2 746,924.8 758,924.6 770,924.4 782,924.6 794,926.3 806,928.9 818,932.1 830,935.8 842,940.0 854,944.6 866,949.5 878,954.8 890,960.5 902,966.4 914,972.7" stroke="#0aba11"/>
<path d="M650,933.3 662,932.1 674,931.0 686,930.1 698,929.2 710,928.5 722,927.9 734,927.4 746,927.0 758,926.8 770,926.6 782,926.8 794,928.6 806,931.2 818,934.4 830,938.1 842,942.4 854,947.0 866,952.0 878,957.4 890,963.1 902,969.1 914,975.4" stroke="#07b913"/>
<path d="M650,935.5 662,934.3 674,933.2 686,932.2 698,931.4 710,930.7 722,930.1 734,929.6 746,929.2 758,929.0 770,928.8 782,929.0 794,930.8 806,933.4 818,936.7 830,940.5 842,944.8 854,949.5 866,954.5 878,960.0 890,965.7 902,971.8 914,978.2" stroke="#04b815"/>
<path d="M650,937.7 662,936.5 674,935.4 686,934.4 698,933.6 710,932.9 722,932.3 734,931.8 746,931.4 758,931.2 770,931.0 782,931.3 794,933.0 806,935.7 818,939.0 830,942.8 842,947.1 854,951.9 866,957.0 878,962.5 890,968.4 902,974.6 914,981.0" stroke="#01b817"/>
<path d="M650,939.8 662,938.7 674,937.6 686,936.6 698,935.8 710,935.1 722,934.5 734,934.0 746,933.6 758,933.4 770,933.2 782,933.5 794,935.2 806,937.9 818,941.3 830,945.2 842,949.5 854,954.3 866,959.5 878,965.1 890,971.0 902,977.3 914,983.8" stroke="#00b81b"/>
<path d="M650,942.0 662,940.8 674,939.8 686,938.8 698,938.0 710,937.3 722,936.7 734,936.2 746,935.8 758,935.6 770,935.4 782,935.7 794,937.5 806,940.2 818,943.6 830,947.5 842,951.9 854,956.8 866,962.0 878,967.7 890,973.7 902,980.0 914,986.6" stroke="#00b820"/>
<path d="M650,944.2 662,943.0 674,942.0 686,941.0 698,940.2 710,939.5 722,938.9 734,938.4 746,938.0 758,937.8 770,937.6 782,937.9 794,939.7 806,942.4 818,945.9 830,949.8 842,954.3 854,959.2 866,964.6 878,970.3 890,976.3 902,982.7 914,989.4" stroke="#00b826"/>
<path d="M650,946.4 662,945.2 674,944.2 686,943.2 698,942.4 710,941.7 722,941.1 734,940.6 746,940.2 758,940.0 770,939.8 782,940.1 794,941.9 806,944.7 818,948.2 830,952.2 842,956.7 854,961.7 866,967.1 878,972.8 890,978.9 902,985.4 914,992.2" stroke="#00b82b"/>
<path d="M650,948.6 662,947.4 674,946.4 686,945.4 698,944.6 710,943.9 722,943.3 734,942.8 746,942.4 758,942.2 770,942.0 782,942.3 794,944.1 806,946.9 818,950.4 830,954.5 842,959.1 854,964.1 866,969.6 878,975.4 890,981.6 902,988.1 914,995.0" stroke="#00b831"/>
<path d="M650,950.8 662,949.6 674,948.5 686,947.6 698,946.8 710,946.1 722,945.5 734,945.0 746,944.6 758,944.4 770,944.2 782,944.5 794,946.4 806,949.2 818,952.7 830,956.9 842,961.5 854,966.6 866,972.1 878,978.0 890,984.2 902,990.8 914,997.8" stroke="#00b836"/>
<path d="M650,953.0 662,951.8 674,950.7 686,949.8 698,949.0 710,948.3 722,947.7 734,947.2 746,946.8 758,946.6 770,946.4 782,946.7 794,948.6 806,951.5 818,955.0 830,959.2 842,963.9 854,969.0 866,974.6 878,980.5 890,986.9 902,993.5 914,1000.5" stroke="#00b83c"/>
<path d="M650,955.2 662,954.0 674,952.9 686,952.0 698,951.2 710,950.5 722,949.9 734,949.4 746,949.0 758,948.8 770,948.6 782,948.9 794,950.8 806,953.7 818,957.3 830,961.5 842,966.3 854,971.5 866,977.1 878,983.1 890,989.5 902,996.3 914,1003.3" stroke="#00b942"/>
<path d="M650,957.4 662,956.2 674,955.1 686,954.2 698,953.4 710,952.6 722,952.1 734,951.6 746,951.2 758,951.0 770,950.8 782,951.1 794,953.0 806,956.0 818,959.6 830,963.9 842,968.7 854,973.9 866,979.6 878,985.7 890,992.1 902,999.0 914,1006.1" stroke="#00b947"/>
<path d="M650,959.5 662,958.4 674,957.3 686,956.4 698,955.6 710,954.8 722,954.3 734,953.8 746,953.4 758,953.2 770,953.0 782,953.3 794,955.3 806,958.2 818,961.9 830,966.2 842,971.0 854,976.4 866,982.1 878,988.3 890,994.8 902,1001.7 914,1008.9" stroke="#00b94d"/>
<path d="M650,961.7 662,960.6 674,959.5 686,958.6 698,957.8 710,957.0 722,956.5 734,956.0 746,955.6 758,955.4 770,955.2 782,955.5 794,957.5 806,960.5 818,964.2 830,968.6 842,973.4 854,978.8 866,984.6 878,990.8 890,997.4 902,1004.4 914,1011.7" stroke="#00b952"/>
<path d="M650,963.9 662,962.8 674,961.7 686,960.8 698,959.9 710,959.2 722,958.6 734,958.2 746,957.8 758,957.6 770,957.4 782,957.7 794,959.7 806,962.7 818,966.5 830,970.9 842,975.8 854,981.2 866,987.1 878,993.4 890,1000.1 902,1007.1 914,1014.5" stroke="#00b958"/>
<path d="M650,966.1 662,964.9 674,963.9 686,963.0 698,962.1 710,961.4 722,960.8 734,960.4 746,960.0 758,959.8 770,959.6 782,959.9 794,961.9 806,965.0 818,968.8 830,973.2 842,978.2 854,983.7 866,989.6 878,996.0 890,1002.7 902,1009.8 914,1017.3" stroke="#00b95d"/>
<path d="M650,968.3 662,967.1 674,966.1 686,965.2 698,964.3 710,963.6 722,963.0 734,962.6 746,962.2 758,962.0 770,961.8 782,962.1 794,964.2 806,967.2 818,971.1 830,975.6 842,980.6 854,986.1 866,992.1 878,998.5 890,1005.3 902,1012.5 914,1020.1" stroke="#00b963"/>
<path d="M650,970.5 662,969.3 674,968.3 686,967.4 698,966.5 710,965.8 722,965.2 734,964.8 746,964.4 758,964.2 770,964.0 782,964.3 794,966.4 806,969.5 818,973.4 830,977.9 842,983.0 854,988.6 866,994.6 878,1001.1 890,1008.0 902,1015.2 914,1022.9" stroke="#00b86a"/>
<path d="M650,972.7 662,971.5 674,970.5 686,969.5 698,968.7 710,968.0 722,967.4 734,967.0 746,966.6 758,966.4 770,966.2 782,966.5 794,968.6 806,971.8 818,975.7 830,980.3 842,985.4 854,991.0 866,997.1 878,1003.7 890,1010.6 902,1017.9 914,1025.6" stroke="#00b771"/>
<path d="M650,974.9 662,973.7 674,972.7 686,971.7 698,970.9 710,970.2 722,969.6 734,969.2 746,968.8 758,968.6 770,968.4 782,968.7 794,970.8 806,974.0 818,978.0 830,982.6 842,987.8 854,993.5 866,999.6 878,1006.2 890,1013.3 902,1020.7 914,1028.4" stroke="#00b677"/>
<path d="M650,977.1 662,975.9 674,974.9 686,973.9 698,973.1 710,972.4 722,971.8 734,971.4 746,971.0 758,970.8 770,970.6 782,970.9 794,973.0 806,976.3 818,980.3 830,984.9 842,990.2 854,995.9 866,1002.2 878,1008.8 890,1015.9 902,1023.4 914,1031.2" stroke="#00b57e"/>
<path d="M650,979.2 662,978.1 674,977.1 686,976.1 698,975.3 710,974.6 722,974.0 734,973.6 746,973.2 758,973.0 770,972.8 782,973.1 794,975.3 806,978.5 818,982.6 830,987.3 842,992.6 854,998.4 866,1004.7 878,1011.4 890,1018.5 902,1026.1 914,1034.0" stroke="#00b385"/>
<path d="M650,981.4 662,980.3 674,979.2 686,978.3 698,977.5 710,976.8 722,976.2 734,975.8 746,975.4 758,975.2 770,975.0 782,975.3 794,977.5 806,980.8 818,984.9 830,989.6 842,994.9 854,1000.8 866,1007.2 878,1014.0 890,1021.2 902,1028.8 914,1036.8" stroke="#00b28c"/>
<path d="M650,983.6 662,982.5 674,981.4 686,980.5 698,979.7 710,979.0 722,978.4 734,978.0 746,977.6 758,977.4 770,977.2 782,977.5 794,979.7 806,983.0 818,987.2 830,991.9 842,997.3 854,1003.3 866,1009.7 878,1016.5 890,1023.8 902,1031.5 914,1039.6" stroke="#00b193"/>
<path d="M650,985.8 662,984.7 674,983.6 686,982.7 698,981.9 710,981.2 722,980.6 734,980.2 746,979.8 758,979.6 770,979.4 782,979.7 794,981.9 806,985.3 818,989.4 830,994.3 842,999.7 854,1005.7 866,1012.2 878,1019.1 890,1026.5 902,1034.2 914,1042.4" stroke="#00b09a"/>
<path d="M650,988.0 662,986.9 674,985.8 686,984.9 698,984.1 710,983.4 722,982.8 734,982.4 746,982.0 758,981.8 770,981.6 782,981.9 794,984.2 806,987.5 818,991.7 830,996.6 842,1002.1 854,1008.2 866,1014.7 878,1021.7 890,1029.1 902,1036.9 914,1045.2" stroke="#00afa1"/>
<path d="M650,990.2 662,989.0 674,988.0 686,987.1 698,986.3 710,985.6 722,985.0 734,984.6 746,984.2 758,984.0 770,983.8 782,984.1 794,986.4 806,989.8 818,994.0 830,999.0 842,1004.5 854,1010.6 866,1017.2 878,1024.2 890,1031.7 902,1039.6 914,1047.9" stroke="#00ada8"/>
<path d="M650,992.4 662,991.2 674,990.2 686,989.3 698,988.5 710,987.8 722,987.2 734,986.8 746,986.4 758,986.2 770,986.0 782,986.3 794,988.6 806,992.0 818,996.2 830,1001.2 842,1006.7 854,1012.8 866,1019.4 878,1026.5 890,1034.0 902,1041.9 914,1050.2" stroke="#00acae"/>
<path d="M650,994.6 662,993.4 674,992.4 686,991.5 698,990.7 710,990.0 722,989.4 734,989.0 746,988.6 758,988.4 770,988.2 782,988.5 794,990.8 806,994.2 818,998.4 830,1003.4 842,1008.9 854,1015.0 866,1021.6 878,1028.7 890,1036.2 902,1044.1 914,1052.4" stroke="#00a8b4"/>
<path d="M650,996.8 662,995.6 674,994.6 686,993.7 698,992.9 710,992.2 722,991.6 734,991.2 746,990.8 758,990.6 770,990.4 782,990.7 794,993.0 806,996.4 818,1000.6 830,1005.6 842,1011.1 854,1017.2 866,1023.8 878,1030.9 890,1038.4 902,1046.3 914,1054.6" stroke="#00a2b7"/>
<path d="M650,998.9 662,997.8 674,996.8 686,995.9 698,995.1 710,994.4 722,993.8 734,993.3 746,993.0 758,992.8 770,992.6 782,992.9 794,995.2 806,998.6 818,1002.8 830,1007.8 842,1013.3 854,1019.4 866,1026.0 878,1033.1 890,1040.6 902,1048.5 914,1056.8" stroke="#009dbb"/>
<path d="M650,1001.1 662,1000.0 674,999.0 686,998.1 698,997.3 710,996.6 722,996.0 734,995.5 746,995.2 758,995.0 770,994.8 782,995.1 794,997.4 806,1000.8 818,1005.0 830,1010.0 842,1015.5 854,1021.6 866,1028.2 878,1035.3 890,1042.8 902,1050.7 914,1059.0" stroke="#0097bf"/>
<path d="M650,1003.3 662,1002.2 674,1001.2 686,1000.3 698,999.5 710,998.8 722,998.2 734,997.7 746,997.4 758,997.2 770,997.0 782,997.3 794,999.6 806,1003.0 818,1007.2 830,1012.2 842,1017.7 854,1023.8 866,1030.4 878,1037.5 890,1045.0 902,1052.9 914,1061.2" stroke="#0091c3"/>
<path d="M650,1005.5 662,1004.4 674,1003.4 686,1002.5 698,1001.7 710,1001.0 722,1000.4 734,999.9 746,999.6 758,999.4 770,999.2 782,999.5 794,1001.8 806,1005.2 818,1009.4 830,1014.4 842,1019.9 854,1026.0 866,1032.6 878,1039.7 890,1047.2 902,1055.1 914,1063.4" stroke="#008bc6"/>
<path d="M650,1007.7 662,1006.6 674,1005.6 686,1004.7 698,1003.9 710,1003.2 722,1002.6 734,1002.1 746,1001.8 758,1001.6 770,1001.4 782,1001.7 794,1004.0 806,1007.4 818,1011.6 830,1016.6 842,1022.1 854,1028.2 866,1034.8 878,1041.9 890,1049.4 902,1057.3 914,1065.6" stroke="#0085ca"/>
<path d="M650,1009.9 662,1008.8 674,1007.7 686,1006.8 698,1006.1 710,1005.4 722,1004.8 734,1004.3 746,1004.0 758,1003.8 770,1003.6 782,1003.9 794,1006.2 806,1009.6 818,1013.8 830,1018.8 842,1024.3 854,1030.4 866,1037.0 878,1044.1 890,1051.6 902,1059.5 914,1067.8" stroke="#007fce"/>
<path d="M650,1012.1 662,1011.0 674,1009.9 686,1009.0 698,1008.3 710,1007.6 722,1007.0 734,1006.5 746,1006.2 758,1006.0 770,1005.8 782,1006.1 794,1008.4 806,1011.8 818,1016.0 830,1021.0 842,1026.5 854,1032.6 866,1039.2 878,1046.3 890,1053.8 902,1061.7 914,1070.0" stroke="#0079d2"/>
<path d="M650,1014.3 662,1013.1 674,1012.1 686,1011.2 698,1010.4 710,1009.8 722,1009.2 734,1008.7 746,1008.4 758,1008.2 770,1008.0 782,1008.3 794,1010.6 806,1014.0 818,1018.2 830,1023.2 842,1028.7 854,1034.8 866,1041.4 878,1048.5 890,1056.0 902,1063.9 914,1072.2" stroke="#0073d6"/>
<path d="M650,1016.5 662,1015.3 674,1014.3 686,1013.4 698,1012.6 710,1012.0 722,1011.4 734,1010.9 746,1010.6 758,1010.4 770,1010.2 782,1010.5 794,1012.8 806,1016.2 818,1020.4 830,1025.4 842,1030.9 854,1037.0 866,1043.6 878,1050.7 890,1058.2 902,1066.1 914,1074.4" stroke="#006ed6"/>
<path d="M650,1018.6 662,1017.5 674,1016.5 686,1015.6 698,1014.8 710,1014.2 722,1013.6 734,1013.1 746,1012.8 758,1012.6 770,1012.4 782,1012.7 794,1015.0 806,1018.4 818,1022.6 830,1027.6 842,1033.1 854,1039.2 866,1045.8 878,1052.9 890,1060.4 902,1068.3 914,1076.6" stroke="#0069d7"/>
<path d="M650,1020.8 662,1019.7 674,1018.7 686,1017.8 698,1017.0 710,1016.4 722,1015.8 734,1015.3 746,1015.0 758,1014.8 770,1014.6 782,1014.9 794,1017.2 806,1020.6 818,1024.8 830,1029.8 842,1035.3 854,1041.4 866,1048.0 878,1055.1 890,1062.6 902,1070.5 914,1078.8" stroke="#0064d8"/>
<path d="M650,1023.0 662,1021.9 674,1020.9 686,1020.0 698,1019.2 710,1018.6 722,1018.0 734,1017.5 746,1017.2 758,1017.0 770,1016.8 782,1017.1 794,1019.4 806,1022.8 818,1027.0 830,1032.0 842,1037.5 854,1043.6 866,1050.2 878,1057.3 890,1064.8 902,1072.7 914,1081.0" stroke="#005fd8"/>
<path d="M650,1025.2 662,1024.1 674,1023.1 686,1022.2 698,1021.4 710,1020.8 722,1020.2 734,1019.7 746,1019.4 758,1019.2 770,1019.0 782,1019.3 794,1021.6 806,1025.0 818,1029.2 830,1034.2 842,1039.7 854,1045.8 866,1052.4 878,1059.5 890,1067.0 902,1074.9 914,1083.2" stroke="#0059d9"/>
<path d="M650,1027.4 662,1026.3 674,1025.3 686,1024.4 698,1023.6 710,1022.9 722,1022.4 734,1021.9 746,1021.6 758,1021.4 770,1021.2 782,1021.5 794,1023.8 806,1027.2 818,1031.4 830,1036.4 842,1041.9 854,1048.0 866,1054.6 878,1061.7 890,1069.2 902,1077.1 914,1085.4" stroke="#0054da"/>
<path d="M650,1029.6 662,1028.5 674,1027.5 686,1026.6 698,1025.8 710,1025.1 722,1024.6 734,1024.1 746,1023.8 758,1023.6 770,1023.4 782,1023.7 794,1026.0 806,1029.4 818,1033.6 830,1038.6 842,1044.1 854,1050.2 866,1056.8 878,1063.9 890,1071.4 902,1079.3 914,1087.6" stroke="#004fda"/>
<path d="M650,1031.8 662,1030.7 674,1029.7 686,1028.8 698,1028.0 710,1027.3 722,1026.8 734,1026.3 746,1026.0 758,1025.8 770,1025.6 782,1025.9 794,1028.2 806,1031.6 818,1035.8 830,1040.8 842,1046.3 854,1052.4 866,1059.0 878,1066.1 890,1073.6 902,1081.5 914,1089.8" stroke="#004adb"/>
<path d="M650,1034.0 662,1032.9 674,1031.9 686,1031.0 698,1030.2 710,1029.5 722,1029.0 734,1028.5 746,1028.2 758,1028.0 770,1027.8 782,1028.1 794,1030.4 806,1033.8 818,1038.0 830,1043.0 842,1048.5 854,1054.6 866,1061.2 878,1068.3 890,1075.8 902,1083.7 914,1092.0" stroke="#0044dc"/>
<path d="M650,1036.1 662,1035.1 674,1034.1 686,1033.2 698,1032.4 710,1031.7 722,1031.2 734,1030.7 746,1030.4 758,1030.2 770,1030.0 782,1030.3 794,1032.6 806,1036.0 818,1040.2 830,1045.2 842,1050.7 854,1056.8 866,1063.4 878,1070.5 890,1078.0 902,1085.9 914,1094.2" stroke="#003fdc"/>
<path d="M650,1038.3 662,1037.2 674,1036.3 686,1035.4 698,1034.6 710,1033.9 722,1033.4 734,1032.9 746,1032.6 758,1032.3 770,1032.2 782,1032.5 794,1034.8 806,1038.2 818,1042.4 830,1047.4 842,1052.9 854,1059.0 866,1065.6 878,1072.7 890,1080.2 902,1088.1 914,1096.4" stroke="#003add"/>
<path d="M650,1040.5 662,1039.4 674,1038.4 686,1037.6 698,1036.8 710,1036.1 722,1035.6 734,1035.1 746,1034.8 758,1034.5 770,1034.4 782,1034.7 794,1037.0 806,1040.4 818,1044.6 830,1049.6 842,1055.1 854,1061.2 866,1067.8 878,1074.9 890,1082.4 902,1090.3 914,1098.6" stroke="#0035de"/>
<path d="M650,1042.7 662,1041.6 674,1040.6 686,1039.8 698,1039.0 710,1038.3 722,1037.8 734,1037.3 746,1037.0 758,1036.7 770,1036.6 782,1036.9 794,1039.2 806,1042.6 818,1046.8 830,1051.8 842,1057.3 854,1063.4 866,1070.0 878,1077.1 890,1084.6 902,1092.5 914,1100.8" stroke="#0032de"/>
<path d="M650,1044.9 662,1043.8 674,1042.8 686,1042.0 698,1041.2 710,1040.5 722,1040.0 734,1039.5 746,1039.2 758,1038.9 770,1038.8 782,1039.1 794,1041.4 806,1044.8 818,1049.0 830,1054.0 842,1059.5 854,1065.6 866,1072.2 878,1079.3 890,1086.8 902,1094.7 914,1103.0" stroke="#002fdf"/>
<path d="M650,1047.1 662,1046.0 674,1045.0 686,1044.1 698,1043.4 710,1042.7 722,1042.2 734,1041.7 746,1041.4 758,1041.1 770,1041.0 782,1041.3 794,1043.6 806,1047.0 818,1051.2 830,1056.2 842,1061.7 854,1067.8 866,1074.4 878,1081.5 890,1089.0 902,1096.9 914,1105.2" stroke="#002de0"/>
<path d="M650,1049.3 662,1048.2 674,1047.2 686,1046.3 698,1045.6 710,1044.9 722,1044.4 734,1043.9 746,1043.6 758,1043.3 770,1043.2 782,1043.5 794,1045.8 806,1049.2 818,1053.4 830,1058.4 842,1063.9 854,1070.0 866,1076.6 878,1083.7 890,1091.2 902,1099.1 914,1107.4" stroke="#002ae1"/>
<path d="M650,1051.5 662,1050.4 674,1049.4 686,1048.5 698,1047.8 710,1047.1 722,1046.6 734,1046.1 746,1045.8 758,1045.5 770,1045.4 782,1045.7 794,1048.0 806,1051.4 818,1055.6 830,1060.6 842,1066.1 854,1072.2 866,1078.8 878,1085.9 890,1093.4 902,1101.3 914,1109.6" stroke="#0027e1"/>
<path d="M650,1053.7 662,1052.6 674,1051.6 686,1050.7 698,1050.0 710,1049.3 722,1048.8 734,1048.3 746,1048.0 758,1047.7 770,1047.6 782,1047.9 794,1050.2 806,1053.6 818,1057.8 830,1062.8 842,1068.3 854,1074.4 866,1081.0 878,1088.1 890,1095.6 902,1103.5 914,1111.8" stroke="#0024e2"/>
<path d="M650,1055.8 662,1054.8 674,1053.8 686,1052.9 698,1052.2 710,1051.5 722,1051.0 734,1050.5 746,1050.2 758,1049.9 770,1049.8 782,1050.1 794,1052.4 806,1055.8 818,1060.0 830,1065.0 842,1070.5 854,1076.6 866,1083.2 878,1090.3 890,1097.8 902,1105.7 914,1114.0" stroke="#0022e3"/>
<path d="M650,1058.0 662,1057.0 674,1056.0 686,1055.1 698,1054.4 710,1053.7 722,1053.2 734,1052.7 746,1052.4 758,1052.1 770,1052.0 782,1052.3 794,1054.6 806,1058.0 818,1062.2 830,1067.2 842,1072.7 854,1078.8 866,1085.4 878,1092.5 890,1100.0 902,1107.9 914,1116.2" stroke="#001fe4"/>
<path d="M650,1060.2 662,1059.1 674,1058.2 686,1057.3 698,1056.6 710,1055.9 722,1055.4 734,1054.9 746,1054.6 758,1054.3 770,1054.2 782,1054.5 794,1056.8 806,1060.2 818,1064.4 830,1069.4 842,1074.9 854,1081.0 866,1087.6 878,1094.7 890,1102.2 902,1110.1 914,1118.4" stroke="#001ce4"/>
<path d="M650,1062.4 662,1061.3 674,1060.4 686,1059.5 698,1058.7 710,1058.1 722,1057.6 734,1057.1 746,1056.8 758,1056.5 770,1056.4 782,1056.7 794,1059.0 806,1062.4 818,1066.6 830,1071.6 842,1077.1 854,1083.2 866,1089.8 878,1096.9 890,1104.4 902,1112.3 914,1120.6" stroke="#0019e5"/>
<path d="M650,1064.6 662,1063.5 674,1062.6 686,1061.7 698,1060.9 710,1060.3 722,1059.7 734,1059.3 746,1059.0 758,1058.7 770,1058.6 782,1058.9 794,1061.2 806,1064.6 818,1068.8 830,1073.8 842,1079.3 854,1085.4 866,1092.0 878,1099.1 890,1106.6 902,1114.5 914,1122.8" stroke="#0018e6"/>
<path d="M650,1066.8 662,1065.7 674,1064.8 686,1063.9 698,1063.1 710,1062.5 722,1061.9 734,1061.5 746,1061.2 758,1060.9 770,1060.8 782,1061.1 794,1063.4 806,1066.8 818,1071.0 830,1076.0 842,1081.5 854,1087.6 866,1094.2 878,1101.3 890,1108.8 902,1116.7 914,1125.0" stroke="#0018e6"/>
<path d="M650,1069.0 662,1067.9 674,1066.9 686,1066.1 698,1065.3 710,1064.7 722,1064.1 734,1063.7 746,1063.4 758,1063.1 770,1063.0 782,1063.3 794,1065.6 806,1069.0 818,1073.2 830,1078.2 842,1083.7 854,1089.8 866,1096.4 878,1103.5 890,1111.0 902,1118.9 914,1127.2" stroke="#0018e7"/>
<path d="M650,1071.2 662,1070.1 674,1069.1 686,1068.3 698,1067.5 710,1066.9 722,1066.3 734,1065.9 746,1065.6 758,1065.3 770,1065.2 782,1065.5 794,1067.8 806,1071.2 818,1075.4 830,1080.4 842,1085.9 854,1092.0 866,1098.6 878,1105.7 890,1113.2 902,1121.1 914,1129.4" stroke="#0019e8"/>
<path d="M650,1073.4 662,1072.3 674,1071.3 686,1070.5 698,1069.7 710,1069.1 722,1068.5 734,1068.1 746,1067.8 758,1067.5 770,1067.4 782,1067.7 794,1070.0 806,1073.4 818,1077.6 830,1082.6 842,1088.1 854,1094.2 866,1100.8 878,1107.9 890,1115.4 902,1123.3 914,1131.6" stroke="#0019e8"/>
<path d="M650,1075.5 662,1074.5 674,1073.5 686,1072.7 698,1071.9 710,1071.3 722,1070.7 734,1070.3 746,1070.0 758,1069.7 770,1069.6 782,1069.9 794,1072.2 806,1075.6 818,1079.8 830,1084.8 842,1090.3 854,1096.4 866,1103.0 878,1110.1 890,1117.6 902,1125.5 914,1133.8" stroke="#001ae9"/>
<path d="M650,1077.7 662,1076.7 674,1075.7 686,1074.9 698,1074.1 710,1073.5 722,1072.9 734,1072.5 746,1072.2 758,1071.9 770,1071.8 782,1072.1 794,1074.4 806,1077.8 818,1082.0 830,1087.0 842,1092.5 854,1098.6 866,1105.2 878,1112.3 890,1119.8 902,1127.7 914,1136.0" stroke="#001aea"/>
<path d="M650,1079.9 662,1078.9 674,1077.9 686,1077.1 698,1076.3 710,1075.7 722,1075.1 734,1074.7 746,1074.4 758,1074.1 770,1074.0 782,1074.3 794,1076.6 806,1080.0 818,1084.2 830,1089.2 842,1094.7 854,1100.8 866,1107.4 878,1114.5 890,1122.0 902,1129.9 914,1138.2" stroke="#001beb"/>
<path d="M650,1082.1 662,1081.1 674,1080.1 686,1079.3 698,1078.5 710,1077.9 722,1077.3 734,1076.9 746,1076.6 758,1076.3 770,1076.2 782,1076.5 794,1078.8 806,1082.2 818,1086.4 830,1091.4 842,1096.9 854,1103.0 866,1109.6 878,1116.7 890,1124.2 902,1132.1 914,1140.4" stroke="#001beb"/>
<path d="M650,1084.3 662,1083.2 674,1082.3 686,1081.4 698,1080.7 710,1080.1 722,1079.5 734,1079.1 746,1078.8 758,1078.5 770,1078.4 782,1078.7 794,1081.0 806,1084.4 818,1088.6 830,1093.6 842,1099.1 854,1105.2 866,1111.8 878,1118.9 890,1126.4 902,1134.3 914,1142.6" stroke="#001bec"/>
<path d="M650,1086.5 662,1085.4 674,1084.5 686,1083.6 698,1082.9 710,1082.3 722,1081.7 734,1081.3 746,1081.0 758,1080.7 770,1080.6 782,1080.9 794,1083.2 806,1086.6 818,1090.8 830,1095.8 842,1101.3 854,1107.4 866,1114.0 878,1121.1 890,1128.6 902,1136.5 914,1144.8" stroke="#001ced"/>
<path d="M650,1088.7 662,1087.6 674,1086.7 686,1085.8 698,1085.1 710,1084.5 722,1083.9 734,1083.5 746,1083.2 758,1082.9 770,1082.8 782,1083.1 794,1085.4 806,1088.8 818,1093.0 830,1098.0 842,1103.5 854,1109.6 866,1116.2 878,1123.3 890,1130.8 902,1138.7 914,1147.0" stroke="#001ced"/>
<path d="M650,1090.9 662,1089.8 674,1088.9 686,1088.0 698,1087.3 710,1086.7 722,1086.1 734,1085.7 746,1085.4 758,1085.1 770,1085.0 782,1085.3 794,1087.6 806,1091.0 818,1095.2 830,1100.2 842,1105.7 854,1111.8 866,1118.4 878,1125.5 890,1133.0 902,1140.9 914,1149.2" stroke="#001dee"/>
<path d="M650,1093.1 662,1092.0 674,1091.1 686,1090.2 698,1089.5 710,1088.9 722,1088.3 734,1087.9 746,1087.6 758,1087.3 770,1087.2 782,1087.5 794,1089.8 806,1093.2 818,1097.4 830,1102.4 842,1107.9 854,1114.0 866,1120.6 878,1127.7 890,1135.2 902,1143.1 914,1151.4" stroke="#001def"/>
<path d="M650,1095.3 662,1094.2 674,1093.3 686,1092.4 698,1091.7 710,1091.1 722,1090.5 734,1090.1 746,1089.8 758,1089.5 770,1089.4 782,1089.7 794,1092.0 806,1095.4 818,1099.6 830,1104.6 842,1110.1 854,1116.2 866,1122.8 878,1129.9 890,1137.4 902,1145.3 914,1153.6" stroke="#001def"/>
<path d="M650,1097.5 662,1096.4 674,1095.5 686,1094.6 698,1093.9 710,1093.3 722,1092.7 734,1092.3 746,1092.0 758,1091.7 770,1091.6 782,1091.9 794,1094.2 806,1097.6 818,1101.8 830,1106.8 842,1112.3 854,1118.4 866,1125.0 878,1132.1 890,1139.6 902,1147.5 914,1155.8" stroke="#001ef0"/>
<path d="M650,1099.7 662,1098.6 674,1097.7 686,1096.8 698,1096.1 710,1095.5 722,1094.9 734,1094.5 746,1094.2 758,1093.9 770,1093.8 782,1094.1 794,1096.4 806,1099.8 818,1104.0 830,1109.0 842,1114.5 854,1120.6 866,1127.2 878,1134.3 890,1141.8 902,1149.7 914,1158.0" stroke="#001ef0"/>
</g>
<filter id="brt" x="0" y="0" width="1" height="1" color-interpolation-filters="sRGB">
<feColorMatrix type="matrix" values="1.30 0 0 0 0.02  0.04 1.30 0 0 0  0 0 1.30 0 0  0 0 0 1 0"/></filter>
<linearGradient id="mgrad" x1="655" y1="0" x2="908" y2="0" gradientUnits="userSpaceOnUse">
<stop offset="0" stop-color="#fff" stop-opacity="0.45"/>
<stop offset="0.04" stop-color="#fff" stop-opacity="0.15"/>
<stop offset="0.12" stop-color="#fff" stop-opacity="0"/>
<stop offset="0.55" stop-color="#fff" stop-opacity="0"/>
<stop offset="0.70" stop-color="#fff" stop-opacity="0.35"/>
<stop offset="0.84" stop-color="#fff" stop-opacity="1"/>
<stop offset="0.94" stop-color="#fff" stop-opacity="0.9"/>
<stop offset="1" stop-color="#fff" stop-opacity="0.5"/>
</linearGradient>
<mask id="mR" maskUnits="userSpaceOnUse" x="650" y="770" width="265" height="325">
<rect x="650" y="770" width="265" height="325" fill="url(#mgrad)"/></mask>
<filter id="blur3" x="-0.2" y="-0.2" width="1.4" height="1.4"><feGaussianBlur stdDeviation="3"/></filter>
<radialGradient id="spec1" cx="847" cy="1016" r="24" gradientUnits="userSpaceOnUse">
<stop offset="0" stop-color="#d8ffff" stop-opacity="0.85"/>
<stop offset="0.4" stop-color="#80ffff" stop-opacity="0.5"/>
<stop offset="1" stop-color="#30f0ff" stop-opacity="0"/>
</radialGradient>
<radialGradient id="spec2" cx="822.5" cy="1049.5" r="11" gradientUnits="userSpaceOnUse">
<stop offset="0" stop-color="#ffffff" stop-opacity="0.9"/>
<stop offset="0.45" stop-color="#b0d8ff" stop-opacity="0.6"/>
<stop offset="1" stop-color="#3070ff" stop-opacity="0"/>
</radialGradient>
<radialGradient id="cy1" cx="852" cy="1002" r="48" gradientUnits="userSpaceOnUse">
<stop offset="0" stop-color="#00ffff" stop-opacity="0.7"/>
<stop offset="1" stop-color="#00ffff" stop-opacity="0"/>
</radialGradient>
</defs>
<g clip-path="url(#clipS)">
<use href="#strips"/>
<g mask="url(#mR)"><use href="#strips" filter="url(#brt)"/></g>
<path d="M776.20,1082.00 C774.33,1082.22 768.78,1083.07 765.00,1083.30 C761.22,1083.53 757.17,1083.75 753.50,1083.40 C749.83,1083.05 746.32,1082.15 743.00,1081.20 C739.68,1080.25 736.85,1079.15 733.60,1077.70 C730.35,1076.25 726.80,1074.38 723.50,1072.50 C720.20,1070.62 716.88,1068.55 713.80,1066.40 C710.72,1064.25 707.85,1061.97 705.00,1059.60 C702.15,1057.23 699.53,1055.22 696.70,1052.20 C693.87,1049.18 690.83,1045.28 688.00,1041.50 C685.17,1037.72 682.20,1033.58 679.70,1029.50 C677.20,1025.42 675.12,1021.25 673.00,1017.00 C670.88,1012.75 668.80,1008.50 667.00,1004.00 C665.20,999.50 663.63,994.73 662.20,990.00 C660.77,985.27 659.35,980.60 658.40,975.60 C657.45,970.60 656.97,965.20 656.50,960.00 C656.03,954.80 655.73,950.57 655.60,944.40 C655.47,938.23 655.68,926.57 655.70,923.00" fill="none" stroke="#2a8cff" stroke-opacity="0.42" stroke-width="15" filter="url(#blur3)"/>
<rect x="790" y="940" width="130" height="130" fill="url(#cy1)"/>
<ellipse cx="847" cy="1016" rx="24" ry="16" fill="url(#spec1)" transform="rotate(-20 847 1016)"/>
<ellipse cx="822.5" cy="1049.5" rx="11" ry="8" fill="url(#spec2)" transform="rotate(-20 822.5 1049.5)"/>
</g>
<path d="M661.30,819.60 C661.37,823.83 661.57,836.02 661.70,845.00 C661.83,853.98 661.95,864.33 662.10,873.50 C662.25,882.67 662.40,890.55 662.60,900.00 C662.80,909.45 662.93,921.53 663.30,930.20 C663.67,938.87 664.18,944.90 664.80,952.00 C665.42,959.10 666.13,966.88 667.00,972.80 C667.87,978.72 668.83,982.78 670.00,987.50 C671.17,992.22 672.50,996.93 674.00,1001.10 C675.50,1005.27 677.10,1008.72 679.00,1012.50 C680.90,1016.28 683.07,1020.22 685.40,1023.80 C687.73,1027.38 690.17,1030.68 693.00,1034.00 C695.83,1037.32 699.07,1040.70 702.40,1043.70 C705.73,1046.70 709.22,1049.40 713.00,1052.00 C716.78,1054.60 721.27,1057.20 725.10,1059.30 C728.93,1061.40 732.22,1062.95 736.00,1064.60 C739.78,1066.25 743.97,1067.98 747.80,1069.20 C751.63,1070.42 755.22,1071.18 759.00,1071.90 C762.78,1072.62 766.67,1073.10 770.50,1073.50 C774.33,1073.90 778.22,1074.17 782.00,1074.30 C785.78,1074.43 789.87,1074.43 793.20,1074.30 C796.53,1074.17 799.17,1073.88 802.00,1073.50 C804.83,1073.12 807.37,1072.65 810.20,1072.00 C813.03,1071.35 816.17,1070.53 819.00,1069.60 C821.83,1068.67 824.37,1068.00 827.20,1066.40 C830.03,1064.80 833.15,1062.37 836.00,1060.00 C838.85,1057.63 841.97,1054.62 844.30,1052.20 C846.63,1049.78 848.12,1047.63 850.00,1045.50 C851.88,1043.37 853.68,1041.32 855.60,1039.40 C857.52,1037.48 859.60,1035.65 861.50,1034.00 C863.40,1032.35 865.33,1031.13 867.00,1029.50 C868.67,1027.87 870.08,1026.08 871.50,1024.20 C872.92,1022.32 874.83,1019.20 875.50,1018.20" fill="none" stroke="#1c1c1c" stroke-width="3.1" stroke-linecap="round" stroke-linejoin="round"/>
<path d="M693.00,1034.00 C694.57,1035.62 699.07,1040.70 702.40,1043.70 C705.73,1046.70 709.22,1049.40 713.00,1052.00 C716.78,1054.60 721.27,1057.20 725.10,1059.30 C728.93,1061.40 732.22,1062.95 736.00,1064.60 C739.78,1066.25 743.97,1067.98 747.80,1069.20 C751.63,1070.42 755.22,1071.18 759.00,1071.90 C762.78,1072.62 766.67,1073.10 770.50,1073.50 C774.33,1073.90 778.22,1074.17 782.00,1074.30 C785.78,1074.43 789.87,1074.43 793.20,1074.30 C796.53,1074.17 799.17,1073.88 802.00,1073.50 C804.83,1073.12 807.37,1072.65 810.20,1072.00 C813.03,1071.35 816.17,1070.53 819.00,1069.60 C821.83,1068.67 824.37,1068.00 827.20,1066.40 C830.03,1064.80 833.15,1062.37 836.00,1060.00 C838.85,1057.63 841.97,1054.62 844.30,1052.20 C846.63,1049.78 848.12,1047.63 850.00,1045.50 C851.88,1043.37 853.68,1041.32 855.60,1039.40 C857.52,1037.48 860.52,1034.90 861.50,1034.00" fill="none" stroke="#1c1c1c" stroke-width="3.9" stroke-linecap="round" stroke-linejoin="round"/>
<path d="M661.30,819.60 C661.37,823.83 661.57,836.02 661.70,845.00 C661.83,853.98 661.95,864.33 662.10,873.50 C662.25,882.67 662.40,890.55 662.60,900.00 C662.80,909.45 662.93,921.53 663.30,930.20 C663.67,938.87 664.18,944.90 664.80,952.00 C665.42,959.10 666.13,966.88 667.00,972.80 C667.87,978.72 669.50,985.05 670.00,987.50" fill="none" stroke="#8e8e8e" stroke-width="1.5" stroke-linecap="round"/>
<path d="M670.00,987.50 C670.67,989.77 672.50,996.93 674.00,1001.10 C675.50,1005.27 677.10,1008.72 679.00,1012.50 C680.90,1016.28 683.07,1020.22 685.40,1023.80 C687.73,1027.38 690.17,1030.68 693.00,1034.00 C695.83,1037.32 699.07,1040.70 702.40,1043.70 C705.73,1046.70 711.23,1050.62 713.00,1052.00" fill="none" stroke="#6a6a6a" stroke-width="1.1" stroke-linecap="round"/>
<path d="M835.70,785.50 C835.47,790.70 835.00,804.40 834.30,816.70 C833.60,829.00 832.68,845.12 831.50,859.30 C830.32,873.48 828.85,887.62 827.20,901.80 C825.55,915.98 823.72,930.20 821.60,944.40 C819.48,958.60 816.87,975.18 814.50,987.00 C812.13,998.82 809.77,1006.80 807.40,1015.30 C805.03,1023.80 802.90,1030.90 800.30,1038.00 C797.70,1045.10 794.88,1052.47 791.80,1057.90 C788.72,1063.33 785.58,1067.07 781.80,1070.60 C778.02,1074.13 773.58,1077.07 769.10,1079.10 C764.62,1081.13 757.27,1082.18 754.90,1082.80" fill="none" stroke="#ff2cf0" stroke-width="3" stroke-linecap="round" stroke-linejoin="round"/>
<text transform="translate(595.5,867.6) rotate(6) scale(1.22,1)" font-size="16.8" text-anchor="end" dominant-baseline="central" fill="#111" stroke="#111" stroke-width="0.3">50</text>
<text transform="translate(592.2,910.8) rotate(6) scale(1.06,1)" font-size="18" text-anchor="end" dominant-baseline="central" fill="#111" stroke="#111" stroke-width="0.3">40</text>
<text transform="translate(588.0,955.9) rotate(6) scale(1.02,1)" font-size="19.3" text-anchor="end" dominant-baseline="central" fill="#111" stroke="#111" stroke-width="0.3">30</text>
<text transform="translate(585.8,1000.4) rotate(6) scale(1.02,1)" font-size="19.6" text-anchor="end" dominant-baseline="central" fill="#111" stroke="#111" stroke-width="0.3">20</text>
<text transform="translate(582.6,1048.0) rotate(6) scale(0.95,1)" font-size="20.8" text-anchor="end" dominant-baseline="central" fill="#111" stroke="#111" stroke-width="0.3">10</text>
<text transform="translate(580.4,1095.0) rotate(6) scale(1.06,1)" font-size="19.8" text-anchor="end" dominant-baseline="central" fill="#111" stroke="#111" stroke-width="0.3">0</text>
<text transform="translate(547.0,970.5) rotate(-86) skewX(0) scale(1.0,1)" font-size="22" text-anchor="middle" dominant-baseline="central" fill="#111" stroke="#111" stroke-width="0.35" ><tspan class="it">z</tspan> (<tspan class="it">nm</tspan>)</text>
<text transform="translate(682.1,748.0) rotate(13) skewX(-18) scale(1.72,1)" font-size="12.2" text-anchor="end" dominant-baseline="central" fill="#111" stroke="#111" stroke-width="0.3" class="it">30</text>
<text transform="translate(665.7,770.1) rotate(13) skewX(-18) scale(1.72,1)" font-size="12.2" text-anchor="end" dominant-baseline="central" fill="#111" stroke="#111" stroke-width="0.3" class="it">20</text>
<text transform="translate(648.8,792.9) rotate(13) skewX(-18) scale(1.72,1)" font-size="12.2" text-anchor="end" dominant-baseline="central" fill="#111" stroke="#111" stroke-width="0.3" class="it">10</text>
<text transform="translate(633.7,813.3) rotate(13) skewX(-18) scale(1.72,1)" font-size="12.2" text-anchor="end" dominant-baseline="central" fill="#111" stroke="#111" stroke-width="0.3" class="it">0</text>
<text transform="translate(618.5,833.9) rotate(13) skewX(-18) scale(1.72,1)" font-size="12.2" text-anchor="end" dominant-baseline="central" fill="#111" stroke="#111" stroke-width="0.3" class="it">-10</text>
<text transform="translate(604.2,853.2) rotate(13) skewX(-18) scale(1.72,1)" font-size="12.2" text-anchor="end" dominant-baseline="central" fill="#111" stroke="#111" stroke-width="0.3" class="it">-20</text>
<text transform="translate(592.5,795.5) rotate(-51) skewX(0) scale(1.0,1)" font-size="17.5" text-anchor="middle" dominant-baseline="central" fill="#111" stroke="#111" stroke-width="0.35" >x(nm)</text>
<text transform="translate(759.0,728.6) rotate(-58) skewX(-8) scale(1.15,1)" font-size="15.8" text-anchor="middle" dominant-baseline="central" fill="#111" stroke="#111" stroke-width="0.35" >-20</text>
<text transform="translate(815.3,741.2) rotate(-55) skewX(-8) scale(1.15,1)" font-size="15.8" text-anchor="middle" dominant-baseline="central" fill="#111" stroke="#111" stroke-width="0.35" >-10</text>
<text transform="translate(861.2,762.4) rotate(-25) skewX(-8) scale(1.15,1)" font-size="15.8" text-anchor="middle" dominant-baseline="central" fill="#111" stroke="#111" stroke-width="0.35" >0</text>
<text transform="translate(920.0,771.5) rotate(-40) skewX(-8) scale(1.15,1)" font-size="15.8" text-anchor="middle" dominant-baseline="central" fill="#111" stroke="#111" stroke-width="0.35" >10</text>
<text transform="translate(968.0,785.5) rotate(-35) skewX(-8) scale(1.15,1)" font-size="15.8" text-anchor="middle" dominant-baseline="central" fill="#111" stroke="#111" stroke-width="0.35" >20</text>
<text transform="translate(884.4,737.5) rotate(17.5) skewX(0) scale(1.5,1)" font-size="17.5" text-anchor="middle" dominant-baseline="central" fill="#111" stroke="#111" stroke-width="0.35" class="it">y (nm)</text>
<defs><linearGradient id="cbar" x1="0" y1="0" x2="1" y2="0">
<stop offset="0" stop-color="#0000ff"/><stop offset="0.12" stop-color="#0060ff"/><stop offset="0.27" stop-color="#00e8ff"/>
<stop offset="0.45" stop-color="#00d820"/><stop offset="0.62" stop-color="#70dc00"/><stop offset="0.75" stop-color="#f8f000"/>
<stop offset="0.88" stop-color="#ff6000"/><stop offset="1" stop-color="#f01000"/></linearGradient></defs>
<rect x="531" y="1133.5" width="57.2" height="27.8" fill="url(#cbar)"/>
<text x="595.5" y="1154.3" font-size="24.5" fill="#444" textLength="58" lengthAdjust="spacingAndGlyphs">fitting</text>
<line x1="692.30" y1="1153.30" x2="750.40" y2="1153.30" stroke="#000" stroke-width="3" />
<circle cx="721.5" cy="1153.3" r="2.2" fill="#000"/>
<text x="757.5" y="1161.5" font-size="25" fill="#111" textLength="87" lengthAdjust="spacing">y profile</text>
<line x1="852.40" y1="1153.30" x2="911.20" y2="1153.30" stroke="#ff2cf0" stroke-width="3" />
<circle cx="882" cy="1153.3" r="2.2" fill="#e020d0"/>
<text x="918" y="1161.5" font-size="25" fill="#111" textLength="87.5" lengthAdjust="spacing">x profile</text>
</g>
</svg>
</body>
</html>
